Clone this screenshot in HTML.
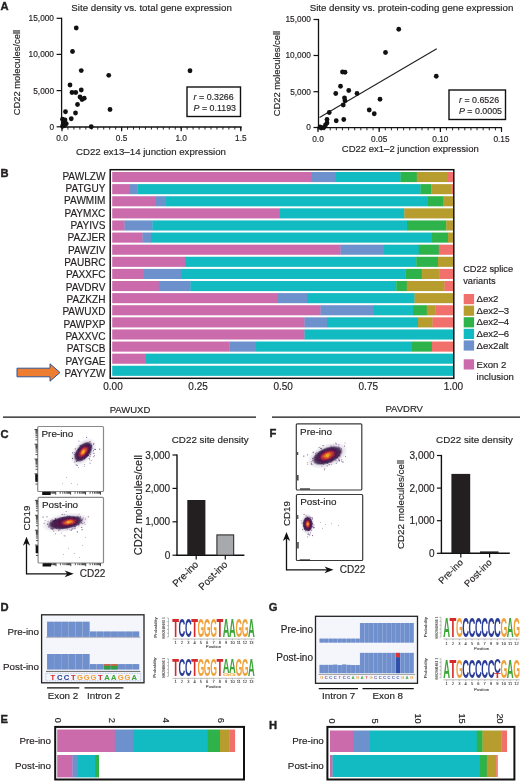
<!DOCTYPE html>
<html><head><meta charset="utf-8"><title>CD22 figure</title>
<style>
html,body{margin:0;padding:0;background:#fff;}
svg{display:block;font-family:"Liberation Sans",Arial,Helvetica,sans-serif;}
</style></head><body>
<svg width="520" height="782" viewBox="0 0 520 782">
<rect width="520" height="782" fill="#fff"/>
<line x1="61.6" y1="17.7" x2="61.6" y2="127.6" stroke="#111" stroke-width="1.3"/>
<line x1="61.0" y1="127" x2="241.6" y2="127" stroke="#111" stroke-width="1.3"/>
<line x1="56.6" y1="18.3" x2="61.6" y2="18.3" stroke="#111" stroke-width="1.2"/>
<text x="54.0" y="21.2" font-size="8.3" text-anchor="end" fill="#231f20" stroke="#231f20" stroke-width="0.16">15,000</text>
<line x1="56.6" y1="54.4" x2="61.6" y2="54.4" stroke="#111" stroke-width="1.2"/>
<text x="54.0" y="57.3" font-size="8.3" text-anchor="end" fill="#231f20" stroke="#231f20" stroke-width="0.16">10,000</text>
<line x1="56.6" y1="90.6" x2="61.6" y2="90.6" stroke="#111" stroke-width="1.2"/>
<text x="54.0" y="93.5" font-size="8.3" text-anchor="end" fill="#231f20" stroke="#231f20" stroke-width="0.16">5,000</text>
<line x1="56.6" y1="126.8" x2="61.6" y2="126.8" stroke="#111" stroke-width="1.2"/>
<text x="54.0" y="129.7" font-size="8.3" text-anchor="end" fill="#231f20" stroke="#231f20" stroke-width="0.16">0</text>
<line x1="62.0" y1="127" x2="62.0" y2="129.6" stroke="#111" stroke-width="0.9"/>
<line x1="67.96" y1="127" x2="67.96" y2="129.6" stroke="#111" stroke-width="0.9"/>
<line x1="73.92" y1="127" x2="73.92" y2="129.6" stroke="#111" stroke-width="0.9"/>
<line x1="79.88" y1="127" x2="79.88" y2="129.6" stroke="#111" stroke-width="0.9"/>
<line x1="85.84" y1="127" x2="85.84" y2="129.6" stroke="#111" stroke-width="0.9"/>
<line x1="91.8" y1="127" x2="91.8" y2="129.6" stroke="#111" stroke-width="0.9"/>
<line x1="97.75999999999999" y1="127" x2="97.75999999999999" y2="129.6" stroke="#111" stroke-width="0.9"/>
<line x1="103.72" y1="127" x2="103.72" y2="129.6" stroke="#111" stroke-width="0.9"/>
<line x1="109.68" y1="127" x2="109.68" y2="129.6" stroke="#111" stroke-width="0.9"/>
<line x1="115.64" y1="127" x2="115.64" y2="129.6" stroke="#111" stroke-width="0.9"/>
<line x1="121.6" y1="127" x2="121.6" y2="129.6" stroke="#111" stroke-width="0.9"/>
<line x1="127.56" y1="127" x2="127.56" y2="129.6" stroke="#111" stroke-width="0.9"/>
<line x1="133.51999999999998" y1="127" x2="133.51999999999998" y2="129.6" stroke="#111" stroke-width="0.9"/>
<line x1="139.48000000000002" y1="127" x2="139.48000000000002" y2="129.6" stroke="#111" stroke-width="0.9"/>
<line x1="145.44" y1="127" x2="145.44" y2="129.6" stroke="#111" stroke-width="0.9"/>
<line x1="151.4" y1="127" x2="151.4" y2="129.6" stroke="#111" stroke-width="0.9"/>
<line x1="157.36" y1="127" x2="157.36" y2="129.6" stroke="#111" stroke-width="0.9"/>
<line x1="163.32" y1="127" x2="163.32" y2="129.6" stroke="#111" stroke-width="0.9"/>
<line x1="169.28" y1="127" x2="169.28" y2="129.6" stroke="#111" stroke-width="0.9"/>
<line x1="175.24" y1="127" x2="175.24" y2="129.6" stroke="#111" stroke-width="0.9"/>
<line x1="181.2" y1="127" x2="181.2" y2="129.6" stroke="#111" stroke-width="0.9"/>
<line x1="187.16" y1="127" x2="187.16" y2="129.6" stroke="#111" stroke-width="0.9"/>
<line x1="193.12" y1="127" x2="193.12" y2="129.6" stroke="#111" stroke-width="0.9"/>
<line x1="199.08" y1="127" x2="199.08" y2="129.6" stroke="#111" stroke-width="0.9"/>
<line x1="205.04" y1="127" x2="205.04" y2="129.6" stroke="#111" stroke-width="0.9"/>
<line x1="211.0" y1="127" x2="211.0" y2="129.6" stroke="#111" stroke-width="0.9"/>
<line x1="216.96" y1="127" x2="216.96" y2="129.6" stroke="#111" stroke-width="0.9"/>
<line x1="222.92" y1="127" x2="222.92" y2="129.6" stroke="#111" stroke-width="0.9"/>
<line x1="228.88" y1="127" x2="228.88" y2="129.6" stroke="#111" stroke-width="0.9"/>
<line x1="234.84" y1="127" x2="234.84" y2="129.6" stroke="#111" stroke-width="0.9"/>
<line x1="240.8" y1="127" x2="240.8" y2="129.6" stroke="#111" stroke-width="0.9"/>
<line x1="62" y1="127" x2="62" y2="131.2" stroke="#111" stroke-width="1.2"/>
<text x="62" y="141.2" font-size="8.3" text-anchor="middle" fill="#231f20" stroke="#231f20" stroke-width="0.16">0.0</text>
<line x1="121.6" y1="127" x2="121.6" y2="131.2" stroke="#111" stroke-width="1.2"/>
<text x="121.6" y="141.2" font-size="8.3" text-anchor="middle" fill="#231f20" stroke="#231f20" stroke-width="0.16">0.5</text>
<line x1="181.2" y1="127" x2="181.2" y2="131.2" stroke="#111" stroke-width="1.2"/>
<text x="181.2" y="141.2" font-size="8.3" text-anchor="middle" fill="#231f20" stroke="#231f20" stroke-width="0.16">1.0</text>
<line x1="240.8" y1="127" x2="240.8" y2="131.2" stroke="#111" stroke-width="1.2"/>
<text x="240.8" y="141.2" font-size="8.3" text-anchor="middle" fill="#231f20" stroke="#231f20" stroke-width="0.16">1.5</text>
<text x="151.6" y="10.9" font-size="9.72" text-anchor="middle" fill="#231f20" stroke="#231f20" stroke-width="0.16">Site density vs. total gene expression</text>
<text x="151" y="155.3" font-size="9.68" text-anchor="middle" fill="#231f20" stroke="#231f20" stroke-width="0.16">CD22 ex13–14 junction expression</text>
<text x="20.4" y="72.65" font-size="9.4" text-anchor="middle" fill="#231f20" stroke="#231f20" stroke-width="0.16" transform="rotate(-90 20.4 72.65)">CD22 molecules/cell</text>
<circle cx="76.25" cy="28" r="2.4" fill="#111"/>
<circle cx="72.5" cy="51.5" r="2.4" fill="#111"/>
<circle cx="81.25" cy="70.6" r="2.4" fill="#111"/>
<circle cx="108.75" cy="75.3" r="2.4" fill="#111"/>
<circle cx="190" cy="70.75" r="2.4" fill="#111"/>
<circle cx="70" cy="85" r="2.4" fill="#111"/>
<circle cx="72" cy="92.5" r="2.4" fill="#111"/>
<circle cx="75.75" cy="92.5" r="2.4" fill="#111"/>
<circle cx="81.25" cy="90" r="2.4" fill="#111"/>
<circle cx="80" cy="97" r="2.4" fill="#111"/>
<circle cx="82" cy="99.5" r="2.4" fill="#111"/>
<circle cx="84.25" cy="98.25" r="2.4" fill="#111"/>
<circle cx="77.5" cy="104.5" r="2.4" fill="#111"/>
<circle cx="110" cy="109.5" r="2.4" fill="#111"/>
<circle cx="65.5" cy="111.75" r="2.4" fill="#111"/>
<circle cx="75.5" cy="113" r="2.4" fill="#111"/>
<circle cx="71.25" cy="118.75" r="2.4" fill="#111"/>
<circle cx="62.5" cy="119.25" r="2.4" fill="#111"/>
<circle cx="65" cy="120" r="2.4" fill="#111"/>
<circle cx="63.75" cy="122.5" r="2.4" fill="#111"/>
<circle cx="66.25" cy="123.75" r="2.4" fill="#111"/>
<circle cx="64.5" cy="125.5" r="2.4" fill="#111"/>
<circle cx="62.5" cy="126.25" r="2.4" fill="#111"/>
<circle cx="91.25" cy="126.75" r="2.4" fill="#111"/>
<rect x="187.00" y="87.00" width="53.50" height="29.50" fill="#fff" stroke="#111" stroke-width="1.4"/>
<text x="193.6" y="99.6" font-size="8.85" fill="#231f20" stroke="#231f20" stroke-width="0.15"><tspan font-style="italic">r</tspan> = 0.3266</text>
<text x="193.6" y="110.7" font-size="8.85" fill="#231f20" stroke="#231f20" stroke-width="0.15"><tspan font-style="italic">P</tspan> = 0.1193</text>
<line x1="318.5" y1="18.9" x2="318.5" y2="128.3" stroke="#111" stroke-width="1.3"/>
<line x1="317.9" y1="127.7" x2="502.1" y2="127.7" stroke="#111" stroke-width="1.3"/>
<line x1="313.5" y1="19.5" x2="318.5" y2="19.5" stroke="#111" stroke-width="1.2"/>
<text x="310.9" y="22.4" font-size="8.3" text-anchor="end" fill="#231f20" stroke="#231f20" stroke-width="0.16">15,000</text>
<line x1="313.5" y1="55.5" x2="318.5" y2="55.5" stroke="#111" stroke-width="1.2"/>
<text x="310.9" y="58.4" font-size="8.3" text-anchor="end" fill="#231f20" stroke="#231f20" stroke-width="0.16">10,000</text>
<line x1="313.5" y1="91.7" x2="318.5" y2="91.7" stroke="#111" stroke-width="1.2"/>
<text x="310.9" y="94.60000000000001" font-size="8.3" text-anchor="end" fill="#231f20" stroke="#231f20" stroke-width="0.16">5,000</text>
<line x1="313.5" y1="127.5" x2="318.5" y2="127.5" stroke="#111" stroke-width="1.2"/>
<text x="310.9" y="130.4" font-size="8.3" text-anchor="end" fill="#231f20" stroke="#231f20" stroke-width="0.16">0</text>
<line x1="318.0" y1="127.7" x2="318.0" y2="130.3" stroke="#111" stroke-width="0.9"/>
<line x1="324.117" y1="127.7" x2="324.117" y2="130.3" stroke="#111" stroke-width="0.9"/>
<line x1="330.234" y1="127.7" x2="330.234" y2="130.3" stroke="#111" stroke-width="0.9"/>
<line x1="336.351" y1="127.7" x2="336.351" y2="130.3" stroke="#111" stroke-width="0.9"/>
<line x1="342.468" y1="127.7" x2="342.468" y2="130.3" stroke="#111" stroke-width="0.9"/>
<line x1="348.585" y1="127.7" x2="348.585" y2="130.3" stroke="#111" stroke-width="0.9"/>
<line x1="354.702" y1="127.7" x2="354.702" y2="130.3" stroke="#111" stroke-width="0.9"/>
<line x1="360.819" y1="127.7" x2="360.819" y2="130.3" stroke="#111" stroke-width="0.9"/>
<line x1="366.936" y1="127.7" x2="366.936" y2="130.3" stroke="#111" stroke-width="0.9"/>
<line x1="373.053" y1="127.7" x2="373.053" y2="130.3" stroke="#111" stroke-width="0.9"/>
<line x1="379.17" y1="127.7" x2="379.17" y2="130.3" stroke="#111" stroke-width="0.9"/>
<line x1="385.28700000000003" y1="127.7" x2="385.28700000000003" y2="130.3" stroke="#111" stroke-width="0.9"/>
<line x1="391.404" y1="127.7" x2="391.404" y2="130.3" stroke="#111" stroke-width="0.9"/>
<line x1="397.521" y1="127.7" x2="397.521" y2="130.3" stroke="#111" stroke-width="0.9"/>
<line x1="403.63800000000003" y1="127.7" x2="403.63800000000003" y2="130.3" stroke="#111" stroke-width="0.9"/>
<line x1="409.755" y1="127.7" x2="409.755" y2="130.3" stroke="#111" stroke-width="0.9"/>
<line x1="415.872" y1="127.7" x2="415.872" y2="130.3" stroke="#111" stroke-width="0.9"/>
<line x1="421.98900000000003" y1="127.7" x2="421.98900000000003" y2="130.3" stroke="#111" stroke-width="0.9"/>
<line x1="428.106" y1="127.7" x2="428.106" y2="130.3" stroke="#111" stroke-width="0.9"/>
<line x1="434.223" y1="127.7" x2="434.223" y2="130.3" stroke="#111" stroke-width="0.9"/>
<line x1="440.34000000000003" y1="127.7" x2="440.34000000000003" y2="130.3" stroke="#111" stroke-width="0.9"/>
<line x1="446.457" y1="127.7" x2="446.457" y2="130.3" stroke="#111" stroke-width="0.9"/>
<line x1="452.574" y1="127.7" x2="452.574" y2="130.3" stroke="#111" stroke-width="0.9"/>
<line x1="458.69100000000003" y1="127.7" x2="458.69100000000003" y2="130.3" stroke="#111" stroke-width="0.9"/>
<line x1="464.808" y1="127.7" x2="464.808" y2="130.3" stroke="#111" stroke-width="0.9"/>
<line x1="470.925" y1="127.7" x2="470.925" y2="130.3" stroke="#111" stroke-width="0.9"/>
<line x1="477.04200000000003" y1="127.7" x2="477.04200000000003" y2="130.3" stroke="#111" stroke-width="0.9"/>
<line x1="483.159" y1="127.7" x2="483.159" y2="130.3" stroke="#111" stroke-width="0.9"/>
<line x1="489.276" y1="127.7" x2="489.276" y2="130.3" stroke="#111" stroke-width="0.9"/>
<line x1="495.39300000000003" y1="127.7" x2="495.39300000000003" y2="130.3" stroke="#111" stroke-width="0.9"/>
<line x1="501.51" y1="127.7" x2="501.51" y2="130.3" stroke="#111" stroke-width="0.9"/>
<line x1="318" y1="127.7" x2="318" y2="131.9" stroke="#111" stroke-width="1.2"/>
<text x="318" y="141.9" font-size="8.3" text-anchor="middle" fill="#231f20" stroke="#231f20" stroke-width="0.16">0.0</text>
<line x1="379.2" y1="127.7" x2="379.2" y2="131.9" stroke="#111" stroke-width="1.2"/>
<text x="379.2" y="141.9" font-size="8.3" text-anchor="middle" fill="#231f20" stroke="#231f20" stroke-width="0.16">0.05</text>
<line x1="440.4" y1="127.7" x2="440.4" y2="131.9" stroke="#111" stroke-width="1.2"/>
<text x="440.4" y="141.9" font-size="8.3" text-anchor="middle" fill="#231f20" stroke="#231f20" stroke-width="0.16">0.10</text>
<line x1="501.5" y1="127.7" x2="501.5" y2="131.9" stroke="#111" stroke-width="1.2"/>
<text x="501.5" y="141.9" font-size="8.3" text-anchor="middle" fill="#231f20" stroke="#231f20" stroke-width="0.16">0.15</text>
<text x="411.5" y="10.9" font-size="9.72" text-anchor="middle" fill="#231f20" stroke="#231f20" stroke-width="0.16">Site density vs. protein-coding gene expression</text>
<text x="410.3" y="152.3" font-size="9.52" text-anchor="middle" fill="#231f20" stroke="#231f20" stroke-width="0.16">CD22 ex1–2 junction expression</text>
<text x="280.0" y="73.6" font-size="9.4" text-anchor="middle" fill="#231f20" stroke="#231f20" stroke-width="0.16" transform="rotate(-90 280.0 73.6)">CD22 molecules/cell</text>
<line x1="319.5" y1="117.5" x2="436.75" y2="48.75" stroke="#231f20" stroke-width="1.1"/>
<circle cx="385.5" cy="52.5" r="2.4" fill="#111"/>
<circle cx="342.5" cy="72" r="2.4" fill="#111"/>
<circle cx="345" cy="72.25" r="2.4" fill="#111"/>
<circle cx="340.5" cy="86.25" r="2.4" fill="#111"/>
<circle cx="348.75" cy="90.5" r="2.4" fill="#111"/>
<circle cx="335.75" cy="93.5" r="2.4" fill="#111"/>
<circle cx="357" cy="93.5" r="2.4" fill="#111"/>
<circle cx="344.5" cy="98" r="2.4" fill="#111"/>
<circle cx="345" cy="100.75" r="2.4" fill="#111"/>
<circle cx="380" cy="99.25" r="2.4" fill="#111"/>
<circle cx="343.25" cy="105" r="2.4" fill="#111"/>
<circle cx="369.25" cy="110" r="2.4" fill="#111"/>
<circle cx="374.25" cy="113.75" r="2.4" fill="#111"/>
<circle cx="329.25" cy="112.5" r="2.4" fill="#111"/>
<circle cx="327" cy="119.5" r="2.4" fill="#111"/>
<circle cx="336.25" cy="120.75" r="2.4" fill="#111"/>
<circle cx="343.75" cy="119.5" r="2.4" fill="#111"/>
<circle cx="327" cy="123" r="2.4" fill="#111"/>
<circle cx="325.5" cy="125" r="2.4" fill="#111"/>
<circle cx="320" cy="127" r="2.4" fill="#111"/>
<circle cx="323.75" cy="127.5" r="2.4" fill="#111"/>
<circle cx="321.25" cy="128" r="2.4" fill="#111"/>
<circle cx="398.75" cy="29.25" r="2.4" fill="#111"/>
<circle cx="436.25" cy="76.25" r="2.4" fill="#111"/>
<rect x="449.00" y="90.00" width="56.50" height="29.50" fill="#fff" stroke="#111" stroke-width="1.4"/>
<text x="459" y="102.6" font-size="8.85" fill="#231f20" stroke="#231f20" stroke-width="0.15"><tspan font-style="italic">r</tspan> = 0.6526</text>
<text x="459" y="113.7" font-size="8.85" fill="#231f20" stroke="#231f20" stroke-width="0.15"><tspan font-style="italic">P</tspan> = 0.0005</text>
<text x="0.5" y="10.2" font-size="11.2" text-anchor="start" fill="#231f20" stroke="#231f20" stroke-width="0.4" font-weight="bold">A</text>
<text x="0.5" y="176.8" font-size="11.2" text-anchor="start" fill="#231f20" stroke="#231f20" stroke-width="0.4" font-weight="bold">B</text>
<rect x="112.20" y="172.00" width="199.10" height="10.10" fill="#cc6bac"/>
<rect x="311.00" y="172.00" width="25.05" height="10.10" fill="#6c91cd"/>
<rect x="335.75" y="172.00" width="65.05" height="10.10" fill="#12bac2"/>
<rect x="400.50" y="172.00" width="16.55" height="10.10" fill="#2eb24a"/>
<rect x="416.75" y="172.00" width="31.55" height="10.10" fill="#b79d2e"/>
<rect x="448.00" y="172.00" width="5.00" height="10.10" fill="#f1706c"/>
<text x="105.4" y="179.8" font-size="10.05" text-anchor="end" fill="#231f20" stroke="#231f20" stroke-width="0.16">PAWLZW</text>
<rect x="112.20" y="184.11" width="18.10" height="10.10" fill="#cc6bac"/>
<rect x="130.00" y="184.11" width="7.80" height="10.10" fill="#6c91cd"/>
<rect x="137.50" y="184.11" width="283.30" height="10.10" fill="#12bac2"/>
<rect x="420.50" y="184.11" width="11.05" height="10.10" fill="#2eb24a"/>
<rect x="431.25" y="184.11" width="20.45" height="10.10" fill="#b79d2e"/>
<rect x="451.40" y="184.11" width="1.60" height="10.10" fill="#f1706c"/>
<text x="105.4" y="192.13" font-size="10.05" text-anchor="end" fill="#231f20" stroke="#231f20" stroke-width="0.16">PATGUY</text>
<rect x="112.20" y="196.22" width="44.10" height="10.10" fill="#cc6bac"/>
<rect x="156.00" y="196.22" width="10.30" height="10.10" fill="#6c91cd"/>
<rect x="166.00" y="196.22" width="262.30" height="10.10" fill="#12bac2"/>
<rect x="428.00" y="196.22" width="15.30" height="10.10" fill="#2eb24a"/>
<rect x="443.00" y="196.22" width="10.00" height="10.10" fill="#b79d2e"/>
<text x="105.4" y="204.46" font-size="10.05" text-anchor="end" fill="#231f20" stroke="#231f20" stroke-width="0.16">PAWMIM</text>
<rect x="112.20" y="208.33" width="168.10" height="10.10" fill="#cc6bac"/>
<rect x="280.00" y="208.33" width="124.55" height="10.10" fill="#12bac2"/>
<rect x="404.25" y="208.33" width="48.75" height="10.10" fill="#b79d2e"/>
<text x="105.4" y="216.79" font-size="10.05" text-anchor="end" fill="#231f20" stroke="#231f20" stroke-width="0.16">PAYMXC</text>
<rect x="112.20" y="220.44" width="12.60" height="10.10" fill="#cc6bac"/>
<rect x="124.50" y="220.44" width="28.30" height="10.10" fill="#6c91cd"/>
<rect x="152.50" y="220.44" width="254.80" height="10.10" fill="#12bac2"/>
<rect x="407.00" y="220.44" width="39.55" height="10.10" fill="#2eb24a"/>
<rect x="446.25" y="220.44" width="6.75" height="10.10" fill="#b79d2e"/>
<text x="105.4" y="229.12" font-size="10.05" text-anchor="end" fill="#231f20" stroke="#231f20" stroke-width="0.16">PAYIVS</text>
<rect x="112.20" y="232.55" width="30.60" height="10.10" fill="#cc6bac"/>
<rect x="142.50" y="232.55" width="8.80" height="10.10" fill="#6c91cd"/>
<rect x="151.00" y="232.55" width="281.30" height="10.10" fill="#12bac2"/>
<rect x="432.00" y="232.55" width="16.30" height="10.10" fill="#2eb24a"/>
<rect x="448.00" y="232.55" width="5.00" height="10.10" fill="#b79d2e"/>
<text x="105.4" y="241.45" font-size="10.05" text-anchor="end" fill="#231f20" stroke="#231f20" stroke-width="0.16">PAZJER</text>
<rect x="112.20" y="244.66" width="228.60" height="10.10" fill="#cc6bac"/>
<rect x="340.50" y="244.66" width="43.80" height="10.10" fill="#6c91cd"/>
<rect x="384.00" y="244.66" width="35.05" height="10.10" fill="#12bac2"/>
<rect x="418.75" y="244.66" width="20.30" height="10.10" fill="#2eb24a"/>
<rect x="438.75" y="244.66" width="14.25" height="10.10" fill="#f1706c"/>
<text x="105.4" y="253.78" font-size="10.05" text-anchor="end" fill="#231f20" stroke="#231f20" stroke-width="0.16">PAWZIV</text>
<rect x="112.20" y="256.77" width="73.10" height="10.10" fill="#cc6bac"/>
<rect x="185.00" y="256.77" width="231.55" height="10.10" fill="#12bac2"/>
<rect x="416.25" y="256.77" width="22.05" height="10.10" fill="#2eb24a"/>
<rect x="438.00" y="256.77" width="15.00" height="10.10" fill="#b79d2e"/>
<text x="105.4" y="266.11" font-size="10.05" text-anchor="end" fill="#231f20" stroke="#231f20" stroke-width="0.16">PAUBRC</text>
<rect x="112.20" y="268.88" width="32.10" height="10.10" fill="#cc6bac"/>
<rect x="144.00" y="268.88" width="37.30" height="10.10" fill="#6c91cd"/>
<rect x="181.00" y="268.88" width="224.80" height="10.10" fill="#12bac2"/>
<rect x="405.50" y="268.88" width="16.55" height="10.10" fill="#2eb24a"/>
<rect x="421.75" y="268.88" width="18.05" height="10.10" fill="#b79d2e"/>
<rect x="439.50" y="268.88" width="13.50" height="10.10" fill="#f1706c"/>
<text x="105.4" y="278.44" font-size="10.05" text-anchor="end" fill="#231f20" stroke="#231f20" stroke-width="0.16">PAXXFC</text>
<rect x="112.20" y="280.99" width="46.85" height="10.10" fill="#cc6bac"/>
<rect x="158.75" y="280.99" width="32.05" height="10.10" fill="#6c91cd"/>
<rect x="190.50" y="280.99" width="206.05" height="10.10" fill="#12bac2"/>
<rect x="396.25" y="280.99" width="10.80" height="10.10" fill="#2eb24a"/>
<rect x="406.75" y="280.99" width="38.05" height="10.10" fill="#b79d2e"/>
<rect x="444.50" y="280.99" width="8.50" height="10.10" fill="#f1706c"/>
<text x="105.4" y="290.77" font-size="10.05" text-anchor="end" fill="#231f20" stroke="#231f20" stroke-width="0.16">PAVDRV</text>
<rect x="112.20" y="293.10" width="166.10" height="10.10" fill="#cc6bac"/>
<rect x="278.00" y="293.10" width="29.30" height="10.10" fill="#6c91cd"/>
<rect x="307.00" y="293.10" width="107.80" height="10.10" fill="#12bac2"/>
<rect x="414.50" y="293.10" width="38.50" height="10.10" fill="#b79d2e"/>
<text x="105.4" y="303.1" font-size="10.05" text-anchor="end" fill="#231f20" stroke="#231f20" stroke-width="0.16">PAZKZH</text>
<rect x="112.20" y="305.21" width="208.60" height="10.10" fill="#cc6bac"/>
<rect x="320.50" y="305.21" width="53.55" height="10.10" fill="#6c91cd"/>
<rect x="373.75" y="305.21" width="39.55" height="10.10" fill="#12bac2"/>
<rect x="413.00" y="305.21" width="14.05" height="10.10" fill="#2eb24a"/>
<rect x="426.75" y="305.21" width="9.05" height="10.10" fill="#b79d2e"/>
<rect x="435.50" y="305.21" width="17.50" height="10.10" fill="#f1706c"/>
<text x="105.4" y="315.43" font-size="10.05" text-anchor="end" fill="#231f20" stroke="#231f20" stroke-width="0.16">PAWUXD</text>
<rect x="112.20" y="317.32" width="192.60" height="10.10" fill="#cc6bac"/>
<rect x="304.50" y="317.32" width="22.80" height="10.10" fill="#6c91cd"/>
<rect x="327.00" y="317.32" width="91.30" height="10.10" fill="#12bac2"/>
<rect x="418.00" y="317.32" width="14.80" height="10.10" fill="#b79d2e"/>
<rect x="432.50" y="317.32" width="20.50" height="10.10" fill="#f1706c"/>
<text x="105.4" y="327.76" font-size="10.05" text-anchor="end" fill="#231f20" stroke="#231f20" stroke-width="0.16">PAWPXP</text>
<rect x="112.20" y="329.43" width="192.60" height="10.10" fill="#cc6bac"/>
<rect x="304.50" y="329.43" width="148.50" height="10.10" fill="#12bac2"/>
<text x="105.4" y="340.09" font-size="10.05" text-anchor="end" fill="#231f20" stroke="#231f20" stroke-width="0.16">PAXXVC</text>
<rect x="112.20" y="341.54" width="117.60" height="10.10" fill="#cc6bac"/>
<rect x="229.50" y="341.54" width="26.80" height="10.10" fill="#6c91cd"/>
<rect x="256.00" y="341.54" width="156.30" height="10.10" fill="#12bac2"/>
<rect x="412.00" y="341.54" width="20.30" height="10.10" fill="#2eb24a"/>
<rect x="432.00" y="341.54" width="21.00" height="10.10" fill="#f1706c"/>
<text x="105.4" y="352.42" font-size="10.05" text-anchor="end" fill="#231f20" stroke="#231f20" stroke-width="0.16">PATSCB</text>
<rect x="112.20" y="353.65" width="34.10" height="10.10" fill="#cc6bac"/>
<rect x="146.00" y="353.65" width="307.00" height="10.10" fill="#12bac2"/>
<text x="105.4" y="364.75" font-size="10.05" text-anchor="end" fill="#231f20" stroke="#231f20" stroke-width="0.16">PAYGAE</text>
<rect x="112.20" y="365.76" width="340.80" height="10.10" fill="#12bac2"/>
<text x="105.4" y="377.08" font-size="10.05" text-anchor="end" fill="#231f20" stroke="#231f20" stroke-width="0.16">PAYYZW</text>
<rect x="110.20" y="169.70" width="343.60" height="208.60" fill="none" stroke="#111" stroke-width="1.5"/>
<text x="113.0" y="390.2" font-size="10" text-anchor="middle" fill="#231f20" stroke="#231f20" stroke-width="0.16">0.00</text>
<text x="198.1" y="390.2" font-size="10" text-anchor="middle" fill="#231f20" stroke="#231f20" stroke-width="0.16">0.25</text>
<text x="283.2" y="390.2" font-size="10" text-anchor="middle" fill="#231f20" stroke="#231f20" stroke-width="0.16">0.50</text>
<text x="368.29999999999995" y="390.2" font-size="10" text-anchor="middle" fill="#231f20" stroke="#231f20" stroke-width="0.16">0.75</text>
<text x="453.4" y="390.2" font-size="10" text-anchor="middle" fill="#231f20" stroke="#231f20" stroke-width="0.16">1.00</text>
<polygon points="17,368.2 50,368.2 50,363.8 60,372.5 50,381.2 50,376.8 17,376.8" fill="#ed7d31" stroke="#2f5597" stroke-width="1"/>
<text x="463.2" y="272.2" font-size="9.25" text-anchor="start" fill="#231f20" stroke="#231f20" stroke-width="0.16">CD22 splice</text>
<text x="463.2" y="284.3" font-size="9.25" text-anchor="start" fill="#231f20" stroke="#231f20" stroke-width="0.16">variants</text>
<rect x="463.70" y="294.00" width="10.40" height="10.20" fill="#f1706c"/>
<text x="476.5" y="302.1" font-size="9.6" text-anchor="start" fill="#231f20" stroke="#231f20" stroke-width="0.16">Δex2</text>
<rect x="463.70" y="305.60" width="10.40" height="10.20" fill="#b79d2e"/>
<text x="476.5" y="313.70000000000005" font-size="9.6" text-anchor="start" fill="#231f20" stroke="#231f20" stroke-width="0.16">Δex2–3</text>
<rect x="463.70" y="317.20" width="10.40" height="10.20" fill="#2eb24a"/>
<text x="476.5" y="325.3" font-size="9.6" text-anchor="start" fill="#231f20" stroke="#231f20" stroke-width="0.16">Δex2–4</text>
<rect x="463.70" y="328.80" width="10.40" height="10.20" fill="#12bac2"/>
<text x="476.5" y="336.90000000000003" font-size="9.6" text-anchor="start" fill="#231f20" stroke="#231f20" stroke-width="0.16">Δex2–6</text>
<rect x="463.70" y="340.40" width="10.40" height="10.20" fill="#6c91cd"/>
<text x="476.5" y="348.5" font-size="9.6" text-anchor="start" fill="#231f20" stroke="#231f20" stroke-width="0.16">Δex2alt</text>
<rect x="463.70" y="359.30" width="10.40" height="10.20" fill="#cc6bac"/>
<text x="476.5" y="367.7" font-size="9.6" text-anchor="start" fill="#231f20" stroke="#231f20" stroke-width="0.16">Exon 2</text>
<text x="476.5" y="380.2" font-size="9.6" text-anchor="start" fill="#231f20" stroke="#231f20" stroke-width="0.16">inclusion</text>
<text x="130" y="413.2" font-size="9.5" text-anchor="middle" fill="#231f20" stroke="#231f20" stroke-width="0.16">PAWUXD</text>
<text x="404.2" y="412" font-size="9.5" text-anchor="middle" fill="#231f20" stroke="#231f20" stroke-width="0.16">PAVDRV</text>
<line x1="3" y1="417.1" x2="256" y2="417.1" stroke="#111" stroke-width="1.4"/>
<line x1="272" y1="417.1" x2="520" y2="417.1" stroke="#111" stroke-width="1.4"/>
<text x="0.5" y="437.7" font-size="11.2" text-anchor="start" fill="#231f20" stroke="#231f20" stroke-width="0.4" font-weight="bold">C</text>
<text x="269.5" y="437.4" font-size="11.2" text-anchor="start" fill="#231f20" stroke="#231f20" stroke-width="0.4" font-weight="bold">F</text>
<defs>
<radialGradient id="blob"><stop offset="0" stop-color="#fdd835"/><stop offset="0.2" stop-color="#f9a21f"/><stop offset="0.45" stop-color="#e0502a"/><stop offset="0.72" stop-color="#a42348" stop-opacity="0.85"/><stop offset="1" stop-color="#6a1648" stop-opacity="0"/></radialGradient>
<radialGradient id="body"><stop offset="0" stop-color="#641545"/><stop offset="0.55" stop-color="#4a1248" stop-opacity="0.97"/><stop offset="0.8" stop-color="#2d1040" stop-opacity="0.8"/><stop offset="1" stop-color="#2d1040" stop-opacity="0"/></radialGradient>
<radialGradient id="halo"><stop offset="0" stop-color="#3a1a55" stop-opacity="0.5"/><stop offset="0.7" stop-color="#3a1a55" stop-opacity="0.16"/><stop offset="1" stop-color="#3a1a55" stop-opacity="0"/></radialGradient>
</defs>
<rect x="37.70" y="426.50" width="65.80" height="65.00" fill="#fff" stroke="#8a8a8a" stroke-width="1.2" rx="1"/>
<ellipse cx="83.3" cy="451.8" rx="16.2" ry="9.8" fill="url(#halo)" transform="rotate(-50 83.3 451.8)"/>
<rect x="83.9" y="454.5" width="1" height="1" fill="#30123b" opacity="0.37"/>
<rect x="82.8" y="449.7" width="1" height="1" fill="#40308a" opacity="0.38"/>
<rect x="82.1" y="453.1" width="1" height="1" fill="#6a2060" opacity="0.56"/>
<rect x="87.8" y="455.0" width="1" height="1" fill="#3b1550" opacity="0.76"/>
<rect x="87.1" y="450.7" width="1" height="1" fill="#30123b" opacity="0.64"/>
<rect x="90.1" y="447.1" width="1" height="1" fill="#3b1550" opacity="0.84"/>
<rect x="93.1" y="444.0" width="1" height="1" fill="#2c1a6b" opacity="0.56"/>
<rect x="76.9" y="457.1" width="1" height="1" fill="#40308a" opacity="0.76"/>
<rect x="89.6" y="452.4" width="1" height="1" fill="#30123b" opacity="0.44"/>
<rect x="91.7" y="447.9" width="1" height="1" fill="#40308a" opacity="0.38"/>
<rect x="89.9" y="453.8" width="1" height="1" fill="#6a2060" opacity="0.74"/>
<rect x="75.7" y="464.2" width="1" height="1" fill="#2c1a6b" opacity="0.50"/>
<rect x="80.1" y="445.5" width="1" height="1" fill="#4b1a5a" opacity="0.39"/>
<rect x="85.5" y="456.7" width="1" height="1" fill="#2c1a6b" opacity="0.71"/>
<rect x="89.6" y="462.7" width="1" height="1" fill="#3b1550" opacity="0.61"/>
<rect x="87.9" y="451.7" width="1" height="1" fill="#6a2060" opacity="0.56"/>
<rect x="84.6" y="449.6" width="1" height="1" fill="#40308a" opacity="0.64"/>
<rect x="83.8" y="447.0" width="1" height="1" fill="#30123b" opacity="0.53"/>
<rect x="76.0" y="460.8" width="1" height="1" fill="#3b1550" opacity="0.77"/>
<rect x="86.5" y="445.4" width="1" height="1" fill="#30123b" opacity="0.38"/>
<rect x="80.0" y="449.9" width="1" height="1" fill="#40308a" opacity="0.85"/>
<rect x="82.3" y="448.0" width="1" height="1" fill="#6a2060" opacity="0.79"/>
<rect x="84.1" y="464.0" width="1" height="1" fill="#2c1a6b" opacity="0.43"/>
<rect x="85.2" y="451.2" width="1" height="1" fill="#2c1a6b" opacity="0.41"/>
<rect x="86.7" y="454.5" width="1" height="1" fill="#6a2060" opacity="0.39"/>
<rect x="79.6" y="458.9" width="1" height="1" fill="#4b1a5a" opacity="0.76"/>
<rect x="83.5" y="447.5" width="1" height="1" fill="#6a2060" opacity="0.84"/>
<rect x="78.7" y="451.3" width="1" height="1" fill="#4b1a5a" opacity="0.43"/>
<rect x="86.8" y="452.0" width="1" height="1" fill="#4b1a5a" opacity="0.36"/>
<rect x="82.8" y="448.7" width="1" height="1" fill="#2c1a6b" opacity="0.35"/>
<rect x="81.4" y="457.3" width="1" height="1" fill="#40308a" opacity="0.51"/>
<rect x="93.8" y="448.8" width="1" height="1" fill="#40308a" opacity="0.68"/>
<rect x="79.3" y="449.1" width="1" height="1" fill="#30123b" opacity="0.75"/>
<rect x="82.1" y="457.5" width="1" height="1" fill="#3b1550" opacity="0.59"/>
<rect x="82.4" y="455.5" width="1" height="1" fill="#4b1a5a" opacity="0.57"/>
<rect x="90.5" y="449.0" width="1" height="1" fill="#3b1550" opacity="0.35"/>
<rect x="85.7" y="451.5" width="1" height="1" fill="#2c1a6b" opacity="0.66"/>
<rect x="86.8" y="449.5" width="1" height="1" fill="#6a2060" opacity="0.42"/>
<rect x="86.3" y="454.4" width="1" height="1" fill="#2c1a6b" opacity="0.59"/>
<rect x="89.5" y="449.6" width="1" height="1" fill="#6a2060" opacity="0.59"/>
<rect x="84.1" y="454.3" width="1" height="1" fill="#30123b" opacity="0.52"/>
<rect x="88.8" y="457.9" width="1" height="1" fill="#4b1a5a" opacity="0.61"/>
<rect x="94.0" y="455.0" width="1" height="1" fill="#2c1a6b" opacity="0.42"/>
<rect x="82.1" y="452.7" width="1" height="1" fill="#40308a" opacity="0.50"/>
<rect x="81.0" y="452.2" width="1" height="1" fill="#2c1a6b" opacity="0.61"/>
<rect x="84.9" y="446.5" width="1" height="1" fill="#4b1a5a" opacity="0.62"/>
<rect x="81.1" y="448.5" width="1" height="1" fill="#4b1a5a" opacity="0.66"/>
<rect x="79.5" y="445.2" width="1" height="1" fill="#4b1a5a" opacity="0.75"/>
<rect x="81.2" y="444.2" width="1" height="1" fill="#4b1a5a" opacity="0.45"/>
<rect x="76.8" y="460.1" width="1" height="1" fill="#3b1550" opacity="0.75"/>
<rect x="81.0" y="455.3" width="1" height="1" fill="#40308a" opacity="0.83"/>
<rect x="76.6" y="465.0" width="1" height="1" fill="#2c1a6b" opacity="0.83"/>
<rect x="83.1" y="455.6" width="1" height="1" fill="#4b1a5a" opacity="0.59"/>
<rect x="84.0" y="457.5" width="1" height="1" fill="#40308a" opacity="0.77"/>
<rect x="77.9" y="459.5" width="1" height="1" fill="#30123b" opacity="0.39"/>
<rect x="72.2" y="452.4" width="1" height="1" fill="#30123b" opacity="0.73"/>
<rect x="81.0" y="455.1" width="1" height="1" fill="#30123b" opacity="0.52"/>
<rect x="78.4" y="440.6" width="1" height="1" fill="#6a2060" opacity="0.58"/>
<rect x="81.8" y="450.7" width="1" height="1" fill="#4b1a5a" opacity="0.44"/>
<rect x="86.3" y="451.0" width="1" height="1" fill="#6a2060" opacity="0.75"/>
<rect x="93.0" y="450.3" width="1" height="1" fill="#6a2060" opacity="0.68"/>
<rect x="83.6" y="458.3" width="1" height="1" fill="#4b1a5a" opacity="0.36"/>
<rect x="80.3" y="445.1" width="1" height="1" fill="#3b1550" opacity="0.61"/>
<rect x="85.9" y="445.7" width="1" height="1" fill="#4b1a5a" opacity="0.76"/>
<rect x="86.5" y="452.9" width="1" height="1" fill="#2c1a6b" opacity="0.60"/>
<rect x="80.7" y="449.0" width="1" height="1" fill="#40308a" opacity="0.56"/>
<rect x="94.9" y="448.9" width="1" height="1" fill="#2c1a6b" opacity="0.80"/>
<rect x="74.1" y="452.2" width="1" height="1" fill="#40308a" opacity="0.56"/>
<rect x="85.6" y="445.1" width="1" height="1" fill="#40308a" opacity="0.43"/>
<rect x="74.4" y="461.5" width="1" height="1" fill="#4b1a5a" opacity="0.65"/>
<rect x="81.8" y="449.8" width="1" height="1" fill="#4b1a5a" opacity="0.59"/>
<rect x="78.3" y="449.3" width="1" height="1" fill="#2c1a6b" opacity="0.69"/>
<rect x="77.9" y="456.8" width="1" height="1" fill="#3b1550" opacity="0.79"/>
<rect x="86.6" y="449.4" width="1" height="1" fill="#3b1550" opacity="0.74"/>
<rect x="77.7" y="458.0" width="1" height="1" fill="#3b1550" opacity="0.57"/>
<rect x="77.0" y="454.1" width="1" height="1" fill="#40308a" opacity="0.45"/>
<rect x="86.4" y="456.1" width="1" height="1" fill="#6a2060" opacity="0.60"/>
<rect x="87.4" y="455.1" width="1" height="1" fill="#2c1a6b" opacity="0.81"/>
<rect x="84.1" y="448.0" width="1" height="1" fill="#6a2060" opacity="0.42"/>
<rect x="89.0" y="450.0" width="1" height="1" fill="#3b1550" opacity="0.69"/>
<rect x="81.7" y="455.7" width="1" height="1" fill="#2c1a6b" opacity="0.74"/>
<rect x="84.1" y="448.5" width="1" height="1" fill="#30123b" opacity="0.67"/>
<rect x="83.1" y="455.9" width="1" height="1" fill="#4b1a5a" opacity="0.83"/>
<rect x="93.3" y="456.2" width="1" height="1" fill="#6a2060" opacity="0.79"/>
<rect x="90.7" y="451.5" width="1" height="1" fill="#4b1a5a" opacity="0.43"/>
<rect x="80.4" y="458.6" width="1" height="1" fill="#2c1a6b" opacity="0.56"/>
<rect x="83.3" y="454.1" width="1" height="1" fill="#2c1a6b" opacity="0.36"/>
<rect x="77.9" y="455.9" width="1" height="1" fill="#3b1550" opacity="0.54"/>
<rect x="79.5" y="455.7" width="1" height="1" fill="#3b1550" opacity="0.41"/>
<rect x="84.8" y="447.7" width="1" height="1" fill="#3b1550" opacity="0.39"/>
<rect x="89.2" y="459.3" width="1" height="1" fill="#4b1a5a" opacity="0.49"/>
<rect x="88.8" y="450.3" width="1" height="1" fill="#30123b" opacity="0.76"/>
<rect x="85.1" y="453.5" width="1" height="1" fill="#40308a" opacity="0.64"/>
<rect x="81.4" y="451.3" width="1" height="1" fill="#3b1550" opacity="0.75"/>
<rect x="93.4" y="452.9" width="1" height="1" fill="#2c1a6b" opacity="0.82"/>
<rect x="73.8" y="454.0" width="1" height="1" fill="#3b1550" opacity="0.65"/>
<rect x="86.4" y="453.3" width="1" height="1" fill="#3b1550" opacity="0.58"/>
<rect x="84.1" y="458.2" width="1" height="1" fill="#2c1a6b" opacity="0.66"/>
<rect x="91.0" y="445.4" width="1" height="1" fill="#3b1550" opacity="0.83"/>
<rect x="85.2" y="453.8" width="1" height="1" fill="#2c1a6b" opacity="0.66"/>
<rect x="80.1" y="454.7" width="1" height="1" fill="#6a2060" opacity="0.60"/>
<rect x="87.7" y="452.1" width="1" height="1" fill="#3b1550" opacity="0.85"/>
<rect x="84.2" y="451.0" width="1" height="1" fill="#40308a" opacity="0.63"/>
<rect x="88.6" y="452.6" width="1" height="1" fill="#6a2060" opacity="0.40"/>
<rect x="82.0" y="446.9" width="1" height="1" fill="#6a2060" opacity="0.62"/>
<rect x="86.1" y="436.9" width="1" height="1" fill="#2c1a6b" opacity="0.69"/>
<rect x="86.8" y="447.0" width="1" height="1" fill="#30123b" opacity="0.71"/>
<rect x="99.1" y="448.7" width="1" height="1" fill="#3b1550" opacity="0.77"/>
<rect x="89.5" y="445.2" width="1" height="1" fill="#2c1a6b" opacity="0.57"/>
<rect x="90.8" y="446.3" width="1" height="1" fill="#6a2060" opacity="0.79"/>
<rect x="79.3" y="451.7" width="1" height="1" fill="#4b1a5a" opacity="0.70"/>
<rect x="86.5" y="449.2" width="1" height="1" fill="#2c1a6b" opacity="0.57"/>
<rect x="90.9" y="460.0" width="1" height="1" fill="#40308a" opacity="0.51"/>
<rect x="93.2" y="443.0" width="1" height="1" fill="#4b1a5a" opacity="0.53"/>
<rect x="87.4" y="446.9" width="1" height="1" fill="#6a2060" opacity="0.49"/>
<rect x="79.5" y="452.1" width="1" height="1" fill="#3b1550" opacity="0.40"/>
<rect x="82.6" y="449.2" width="1" height="1" fill="#40308a" opacity="0.37"/>
<rect x="87.2" y="447.9" width="1" height="1" fill="#4b1a5a" opacity="0.39"/>
<rect x="89.5" y="441.0" width="1" height="1" fill="#4b1a5a" opacity="0.68"/>
<rect x="74.8" y="448.4" width="1" height="1" fill="#6a2060" opacity="0.73"/>
<rect x="78.6" y="449.7" width="1" height="1" fill="#2c1a6b" opacity="0.71"/>
<rect x="81.7" y="452.1" width="1" height="1" fill="#30123b" opacity="0.80"/>
<rect x="74.7" y="454.2" width="1" height="1" fill="#40308a" opacity="0.42"/>
<rect x="77.8" y="457.1" width="1" height="1" fill="#3b1550" opacity="0.76"/>
<rect x="72.1" y="457.9" width="1" height="1" fill="#30123b" opacity="0.83"/>
<rect x="81.1" y="452.2" width="1" height="1" fill="#3b1550" opacity="0.42"/>
<rect x="83.2" y="454.3" width="1" height="1" fill="#6a2060" opacity="0.63"/>
<rect x="75.9" y="453.8" width="1" height="1" fill="#30123b" opacity="0.47"/>
<rect x="86.6" y="455.3" width="1" height="1" fill="#3b1550" opacity="0.72"/>
<rect x="78.1" y="457.9" width="1" height="1" fill="#30123b" opacity="0.61"/>
<rect x="79.4" y="448.8" width="1" height="1" fill="#3b1550" opacity="0.77"/>
<rect x="89.5" y="455.7" width="1" height="1" fill="#4b1a5a" opacity="0.72"/>
<rect x="87.5" y="445.6" width="1" height="1" fill="#6a2060" opacity="0.39"/>
<rect x="84.7" y="447.1" width="1" height="1" fill="#3b1550" opacity="0.66"/>
<rect x="81.2" y="452.2" width="1" height="1" fill="#4b1a5a" opacity="0.52"/>
<rect x="75.4" y="452.7" width="1" height="1" fill="#40308a" opacity="0.63"/>
<rect x="84.9" y="450.1" width="1" height="1" fill="#2c1a6b" opacity="0.84"/>
<rect x="87.0" y="450.1" width="1" height="1" fill="#6a2060" opacity="0.50"/>
<rect x="78.3" y="457.0" width="1" height="1" fill="#6a2060" opacity="0.73"/>
<rect x="88.4" y="445.4" width="1" height="1" fill="#2c1a6b" opacity="0.84"/>
<rect x="66" y="477" width="1" height="1" fill="#a898bd" opacity="0.7"/>
<rect x="62" y="483" width="1" height="1" fill="#a898bd" opacity="0.7"/>
<rect x="71" y="483" width="1" height="1" fill="#a898bd" opacity="0.7"/>
<rect x="77" y="484" width="1" height="1" fill="#a898bd" opacity="0.7"/>
<rect x="84" y="466" width="1" height="1" fill="#a898bd" opacity="0.7"/>
<rect x="78" y="467" width="1" height="1" fill="#a898bd" opacity="0.7"/>
<ellipse cx="83.3" cy="451.8" rx="12.5" ry="7" fill="url(#body)" transform="rotate(-50 83.3 451.8)"/>
<ellipse cx="83.3" cy="451.8" rx="7.8" ry="4.2" fill="url(#blob)" transform="rotate(-50 83.3 451.8)"/>
<rect x="85.1" y="443.3" width="1" height="1" fill="#7a1c4a" opacity="0.35"/>
<rect x="78.6" y="457.5" width="1" height="1" fill="#7a1c4a" opacity="0.35"/>
<rect x="88.1" y="444.6" width="1" height="1" fill="#2a0c36" opacity="0.35"/>
<rect x="75.9" y="455.3" width="1" height="1" fill="#3a1046" opacity="0.35"/>
<rect x="86.5" y="453.9" width="1" height="1" fill="#2a0c36" opacity="0.35"/>
<rect x="85.3" y="451.1" width="1" height="1" fill="#7a1c4a" opacity="0.35"/>
<rect x="89.0" y="447.7" width="1" height="1" fill="#2a0c36" opacity="0.35"/>
<rect x="85.7" y="453.9" width="1" height="1" fill="#7a1c4a" opacity="0.35"/>
<rect x="74.8" y="455.5" width="1" height="1" fill="#7a1c4a" opacity="0.35"/>
<rect x="84.7" y="448.9" width="1" height="1" fill="#3a1046" opacity="0.35"/>
<rect x="78.3" y="455.8" width="1" height="1" fill="#7a1c4a" opacity="0.35"/>
<rect x="78.0" y="456.0" width="1" height="1" fill="#7a1c4a" opacity="0.35"/>
<rect x="88.3" y="450.3" width="1" height="1" fill="#2a0c36" opacity="0.35"/>
<rect x="86.3" y="444.3" width="1" height="1" fill="#2a0c36" opacity="0.35"/>
<rect x="86.5" y="445.3" width="1" height="1" fill="#7a1c4a" opacity="0.35"/>
<rect x="77.7" y="457.0" width="1" height="1" fill="#3a1046" opacity="0.35"/>
<rect x="81.3" y="459.8" width="1" height="1" fill="#7a1c4a" opacity="0.35"/>
<rect x="85.9" y="445.9" width="1" height="1" fill="#2a0c36" opacity="0.35"/>
<rect x="85.7" y="446.2" width="1" height="1" fill="#2a0c36" opacity="0.35"/>
<rect x="79.0" y="453.9" width="1" height="1" fill="#3a1046" opacity="0.35"/>
<rect x="83.0" y="455.7" width="1" height="1" fill="#7a1c4a" opacity="0.35"/>
<rect x="89.6" y="448.3" width="1" height="1" fill="#3a1046" opacity="0.35"/>
<rect x="84.6" y="455.2" width="1" height="1" fill="#3a1046" opacity="0.35"/>
<rect x="85.3" y="452.3" width="1" height="1" fill="#2a0c36" opacity="0.35"/>
<rect x="87.6" y="445.5" width="1" height="1" fill="#3a1046" opacity="0.35"/>
<rect x="87.1" y="449.2" width="1" height="1" fill="#7a1c4a" opacity="0.35"/>
<rect x="85.8" y="454.2" width="1" height="1" fill="#3a1046" opacity="0.35"/>
<rect x="78.9" y="456.6" width="1" height="1" fill="#7a1c4a" opacity="0.35"/>
<rect x="79.3" y="453.4" width="1" height="1" fill="#3a1046" opacity="0.35"/>
<rect x="87.1" y="444.1" width="1" height="1" fill="#3a1046" opacity="0.35"/>
<rect x="80.3" y="455.2" width="1" height="1" fill="#3a1046" opacity="0.35"/>
<rect x="80.0" y="451.4" width="1" height="1" fill="#2a0c36" opacity="0.35"/>
<rect x="78.5" y="457.5" width="1" height="1" fill="#7a1c4a" opacity="0.35"/>
<rect x="83.6" y="450.9" width="1" height="1" fill="#7a1c4a" opacity="0.35"/>
<rect x="88.6" y="444.9" width="1" height="1" fill="#2a0c36" opacity="0.35"/>
<text x="41.5" y="437.2" font-size="9.9" text-anchor="start" fill="#231f20" stroke="#231f20" stroke-width="0.16">Pre-ino</text>
<line x1="35.5" y1="484.1" x2="37.400000000000006" y2="484.1" stroke="#111" stroke-width="0.75"/>
<line x1="45.2" y1="491.8" x2="45.2" y2="493.7" stroke="#111" stroke-width="0.75"/>
<line x1="35.5" y1="481.5" x2="37.400000000000006" y2="481.5" stroke="#111" stroke-width="0.75"/>
<line x1="47.8" y1="491.8" x2="47.8" y2="493.7" stroke="#111" stroke-width="0.75"/>
<line x1="35.5" y1="479.6" x2="37.400000000000006" y2="479.6" stroke="#111" stroke-width="0.75"/>
<line x1="49.7" y1="491.8" x2="49.7" y2="493.7" stroke="#111" stroke-width="0.75"/>
<line x1="35.5" y1="478.2" x2="37.400000000000006" y2="478.2" stroke="#111" stroke-width="0.75"/>
<line x1="51.1" y1="491.8" x2="51.1" y2="493.7" stroke="#111" stroke-width="0.75"/>
<line x1="35.5" y1="477.0" x2="37.400000000000006" y2="477.0" stroke="#111" stroke-width="0.75"/>
<line x1="52.3" y1="491.8" x2="52.3" y2="493.7" stroke="#111" stroke-width="0.75"/>
<line x1="35.5" y1="476.0" x2="37.400000000000006" y2="476.0" stroke="#111" stroke-width="0.75"/>
<line x1="53.3" y1="491.8" x2="53.3" y2="493.7" stroke="#111" stroke-width="0.75"/>
<line x1="35.5" y1="475.2" x2="37.400000000000006" y2="475.2" stroke="#111" stroke-width="0.75"/>
<line x1="54.2" y1="491.8" x2="54.2" y2="493.7" stroke="#111" stroke-width="0.75"/>
<line x1="35.5" y1="474.4" x2="37.400000000000006" y2="474.4" stroke="#111" stroke-width="0.75"/>
<line x1="55.0" y1="491.8" x2="55.0" y2="493.7" stroke="#111" stroke-width="0.75"/>
<line x1="34.5" y1="473.8" x2="37.400000000000006" y2="473.8" stroke="#111" stroke-width="0.75"/>
<line x1="55.7" y1="491.8" x2="55.7" y2="494.7" stroke="#111" stroke-width="0.75"/>
<line x1="35.5" y1="469.3" x2="37.400000000000006" y2="469.3" stroke="#111" stroke-width="0.75"/>
<line x1="60.2" y1="491.8" x2="60.2" y2="493.7" stroke="#111" stroke-width="0.75"/>
<line x1="35.5" y1="466.7" x2="37.400000000000006" y2="466.7" stroke="#111" stroke-width="0.75"/>
<line x1="62.8" y1="491.8" x2="62.8" y2="493.7" stroke="#111" stroke-width="0.75"/>
<line x1="35.5" y1="464.9" x2="37.400000000000006" y2="464.9" stroke="#111" stroke-width="0.75"/>
<line x1="64.7" y1="491.8" x2="64.7" y2="493.7" stroke="#111" stroke-width="0.75"/>
<line x1="35.5" y1="463.4" x2="37.400000000000006" y2="463.4" stroke="#111" stroke-width="0.75"/>
<line x1="66.1" y1="491.8" x2="66.1" y2="493.7" stroke="#111" stroke-width="0.75"/>
<line x1="35.5" y1="462.3" x2="37.400000000000006" y2="462.3" stroke="#111" stroke-width="0.75"/>
<line x1="67.3" y1="491.8" x2="67.3" y2="493.7" stroke="#111" stroke-width="0.75"/>
<line x1="35.5" y1="461.3" x2="37.400000000000006" y2="461.3" stroke="#111" stroke-width="0.75"/>
<line x1="68.3" y1="491.8" x2="68.3" y2="493.7" stroke="#111" stroke-width="0.75"/>
<line x1="35.5" y1="460.4" x2="37.400000000000006" y2="460.4" stroke="#111" stroke-width="0.75"/>
<line x1="69.2" y1="491.8" x2="69.2" y2="493.7" stroke="#111" stroke-width="0.75"/>
<line x1="35.5" y1="459.7" x2="37.400000000000006" y2="459.7" stroke="#111" stroke-width="0.75"/>
<line x1="69.9" y1="491.8" x2="69.9" y2="493.7" stroke="#111" stroke-width="0.75"/>
<line x1="34.5" y1="459.0" x2="37.400000000000006" y2="459.0" stroke="#111" stroke-width="0.75"/>
<line x1="70.6" y1="491.8" x2="70.6" y2="494.7" stroke="#111" stroke-width="0.75"/>
<line x1="35.5" y1="454.6" x2="37.400000000000006" y2="454.6" stroke="#111" stroke-width="0.75"/>
<line x1="75.1" y1="491.8" x2="75.1" y2="493.7" stroke="#111" stroke-width="0.75"/>
<line x1="35.5" y1="452.0" x2="37.400000000000006" y2="452.0" stroke="#111" stroke-width="0.75"/>
<line x1="77.7" y1="491.8" x2="77.7" y2="493.7" stroke="#111" stroke-width="0.75"/>
<line x1="35.5" y1="450.1" x2="37.400000000000006" y2="450.1" stroke="#111" stroke-width="0.75"/>
<line x1="79.6" y1="491.8" x2="79.6" y2="493.7" stroke="#111" stroke-width="0.75"/>
<line x1="35.5" y1="448.7" x2="37.400000000000006" y2="448.7" stroke="#111" stroke-width="0.75"/>
<line x1="81.0" y1="491.8" x2="81.0" y2="493.7" stroke="#111" stroke-width="0.75"/>
<line x1="35.5" y1="447.5" x2="37.400000000000006" y2="447.5" stroke="#111" stroke-width="0.75"/>
<line x1="82.2" y1="491.8" x2="82.2" y2="493.7" stroke="#111" stroke-width="0.75"/>
<line x1="35.5" y1="446.5" x2="37.400000000000006" y2="446.5" stroke="#111" stroke-width="0.75"/>
<line x1="83.2" y1="491.8" x2="83.2" y2="493.7" stroke="#111" stroke-width="0.75"/>
<line x1="35.5" y1="445.7" x2="37.400000000000006" y2="445.7" stroke="#111" stroke-width="0.75"/>
<line x1="84.1" y1="491.8" x2="84.1" y2="493.7" stroke="#111" stroke-width="0.75"/>
<line x1="35.5" y1="444.9" x2="37.400000000000006" y2="444.9" stroke="#111" stroke-width="0.75"/>
<line x1="84.9" y1="491.8" x2="84.9" y2="493.7" stroke="#111" stroke-width="0.75"/>
<line x1="34.5" y1="444.2" x2="37.400000000000006" y2="444.2" stroke="#111" stroke-width="0.75"/>
<line x1="85.5" y1="491.8" x2="85.5" y2="494.7" stroke="#111" stroke-width="0.75"/>
<line x1="35.5" y1="439.8" x2="37.400000000000006" y2="439.8" stroke="#111" stroke-width="0.75"/>
<line x1="90.1" y1="491.8" x2="90.1" y2="493.7" stroke="#111" stroke-width="0.75"/>
<line x1="35.5" y1="437.2" x2="37.400000000000006" y2="437.2" stroke="#111" stroke-width="0.75"/>
<line x1="92.7" y1="491.8" x2="92.7" y2="493.7" stroke="#111" stroke-width="0.75"/>
<line x1="35.5" y1="435.4" x2="37.400000000000006" y2="435.4" stroke="#111" stroke-width="0.75"/>
<line x1="94.6" y1="491.8" x2="94.6" y2="493.7" stroke="#111" stroke-width="0.75"/>
<line x1="35.5" y1="433.9" x2="37.400000000000006" y2="433.9" stroke="#111" stroke-width="0.75"/>
<line x1="96.0" y1="491.8" x2="96.0" y2="493.7" stroke="#111" stroke-width="0.75"/>
<line x1="35.5" y1="432.8" x2="37.400000000000006" y2="432.8" stroke="#111" stroke-width="0.75"/>
<line x1="97.2" y1="491.8" x2="97.2" y2="493.7" stroke="#111" stroke-width="0.75"/>
<line x1="35.5" y1="431.8" x2="37.400000000000006" y2="431.8" stroke="#111" stroke-width="0.75"/>
<line x1="98.2" y1="491.8" x2="98.2" y2="493.7" stroke="#111" stroke-width="0.75"/>
<line x1="35.5" y1="430.9" x2="37.400000000000006" y2="430.9" stroke="#111" stroke-width="0.75"/>
<line x1="99.1" y1="491.8" x2="99.1" y2="493.7" stroke="#111" stroke-width="0.75"/>
<line x1="35.5" y1="430.2" x2="37.400000000000006" y2="430.2" stroke="#111" stroke-width="0.75"/>
<line x1="99.8" y1="491.8" x2="99.8" y2="493.7" stroke="#111" stroke-width="0.75"/>
<line x1="34.5" y1="429.5" x2="37.400000000000006" y2="429.5" stroke="#111" stroke-width="0.75"/>
<line x1="100.5" y1="491.8" x2="100.5" y2="494.7" stroke="#111" stroke-width="0.75"/>
<rect x="35.30" y="474.50" width="2.40" height="7.00" fill="#111"/>
<rect x="42.20" y="491.80" width="8.50" height="3.20" fill="#111"/>
<rect x="38.10" y="497.40" width="65.40" height="65.60" fill="#fff" stroke="#8a8a8a" stroke-width="1.2" rx="1"/>
<ellipse cx="65.5" cy="522.6" rx="24.1" ry="9.4" fill="url(#halo)" transform="rotate(-9 65.5 522.6)"/>
<rect x="58.6" y="522.8" width="1" height="1" fill="#4b1a5a" opacity="0.52"/>
<rect x="71.7" y="523.3" width="1" height="1" fill="#2c1a6b" opacity="0.75"/>
<rect x="66.2" y="523.3" width="1" height="1" fill="#6a2060" opacity="0.54"/>
<rect x="64.9" y="519.8" width="1" height="1" fill="#2c1a6b" opacity="0.52"/>
<rect x="72.8" y="522.7" width="1" height="1" fill="#2c1a6b" opacity="0.41"/>
<rect x="52.1" y="524.6" width="1" height="1" fill="#4b1a5a" opacity="0.40"/>
<rect x="72.6" y="519.0" width="1" height="1" fill="#30123b" opacity="0.57"/>
<rect x="82.8" y="517.5" width="1" height="1" fill="#3b1550" opacity="0.41"/>
<rect x="51.6" y="528.0" width="1" height="1" fill="#6a2060" opacity="0.83"/>
<rect x="61.8" y="523.3" width="1" height="1" fill="#40308a" opacity="0.78"/>
<rect x="72.5" y="520.9" width="1" height="1" fill="#3b1550" opacity="0.46"/>
<rect x="81.6" y="529.2" width="1" height="1" fill="#3b1550" opacity="0.82"/>
<rect x="62.2" y="517.2" width="1" height="1" fill="#6a2060" opacity="0.39"/>
<rect x="65.5" y="522.4" width="1" height="1" fill="#4b1a5a" opacity="0.47"/>
<rect x="77.0" y="517.9" width="1" height="1" fill="#2c1a6b" opacity="0.83"/>
<rect x="56.8" y="520.3" width="1" height="1" fill="#6a2060" opacity="0.70"/>
<rect x="68.4" y="523.2" width="1" height="1" fill="#40308a" opacity="0.82"/>
<rect x="68.6" y="525.2" width="1" height="1" fill="#40308a" opacity="0.35"/>
<rect x="64.6" y="526.4" width="1" height="1" fill="#4b1a5a" opacity="0.59"/>
<rect x="66.7" y="525.6" width="1" height="1" fill="#6a2060" opacity="0.70"/>
<rect x="64.9" y="523.5" width="1" height="1" fill="#6a2060" opacity="0.79"/>
<rect x="62.9" y="521.6" width="1" height="1" fill="#4b1a5a" opacity="0.68"/>
<rect x="71.4" y="520.3" width="1" height="1" fill="#3b1550" opacity="0.70"/>
<rect x="63.1" y="519.1" width="1" height="1" fill="#6a2060" opacity="0.45"/>
<rect x="69.0" y="515.4" width="1" height="1" fill="#40308a" opacity="0.38"/>
<rect x="59.2" y="523.7" width="1" height="1" fill="#4b1a5a" opacity="0.47"/>
<rect x="69.4" y="529.0" width="1" height="1" fill="#2c1a6b" opacity="0.40"/>
<rect x="55.6" y="520.1" width="1" height="1" fill="#4b1a5a" opacity="0.59"/>
<rect x="68.1" y="521.4" width="1" height="1" fill="#40308a" opacity="0.42"/>
<rect x="60.6" y="525.2" width="1" height="1" fill="#40308a" opacity="0.42"/>
<rect x="68.7" y="522.6" width="1" height="1" fill="#6a2060" opacity="0.57"/>
<rect x="63.0" y="519.4" width="1" height="1" fill="#3b1550" opacity="0.85"/>
<rect x="73.0" y="519.8" width="1" height="1" fill="#4b1a5a" opacity="0.68"/>
<rect x="54.8" y="523.6" width="1" height="1" fill="#2c1a6b" opacity="0.68"/>
<rect x="59.3" y="526.4" width="1" height="1" fill="#2c1a6b" opacity="0.57"/>
<rect x="68.6" y="523.2" width="1" height="1" fill="#3b1550" opacity="0.53"/>
<rect x="70.1" y="521.3" width="1" height="1" fill="#4b1a5a" opacity="0.54"/>
<rect x="65.9" y="518.9" width="1" height="1" fill="#6a2060" opacity="0.39"/>
<rect x="63.3" y="520.3" width="1" height="1" fill="#40308a" opacity="0.81"/>
<rect x="69.2" y="525.8" width="1" height="1" fill="#6a2060" opacity="0.37"/>
<rect x="51.4" y="528.9" width="1" height="1" fill="#6a2060" opacity="0.37"/>
<rect x="68.9" y="522.4" width="1" height="1" fill="#3b1550" opacity="0.48"/>
<rect x="63.8" y="513.9" width="1" height="1" fill="#2c1a6b" opacity="0.53"/>
<rect x="54.9" y="533.3" width="1" height="1" fill="#3b1550" opacity="0.48"/>
<rect x="63.2" y="519.4" width="1" height="1" fill="#2c1a6b" opacity="0.50"/>
<rect x="62.4" y="517.5" width="1" height="1" fill="#30123b" opacity="0.82"/>
<rect x="82.3" y="523.1" width="1" height="1" fill="#3b1550" opacity="0.59"/>
<rect x="87.8" y="516.3" width="1" height="1" fill="#6a2060" opacity="0.74"/>
<rect x="79.8" y="516.3" width="1" height="1" fill="#4b1a5a" opacity="0.81"/>
<rect x="73.6" y="528.2" width="1" height="1" fill="#30123b" opacity="0.50"/>
<rect x="63.2" y="520.7" width="1" height="1" fill="#4b1a5a" opacity="0.51"/>
<rect x="62.2" y="526.7" width="1" height="1" fill="#40308a" opacity="0.39"/>
<rect x="71.7" y="528.3" width="1" height="1" fill="#4b1a5a" opacity="0.55"/>
<rect x="58.5" y="519.8" width="1" height="1" fill="#40308a" opacity="0.51"/>
<rect x="84.9" y="518.5" width="1" height="1" fill="#3b1550" opacity="0.48"/>
<rect x="69.3" y="522.9" width="1" height="1" fill="#6a2060" opacity="0.84"/>
<rect x="71.2" y="521.2" width="1" height="1" fill="#4b1a5a" opacity="0.56"/>
<rect x="54.5" y="520.0" width="1" height="1" fill="#30123b" opacity="0.62"/>
<rect x="66.8" y="515.4" width="1" height="1" fill="#2c1a6b" opacity="0.50"/>
<rect x="56.9" y="522.3" width="1" height="1" fill="#30123b" opacity="0.48"/>
<rect x="60.0" y="524.5" width="1" height="1" fill="#4b1a5a" opacity="0.43"/>
<rect x="74.3" y="517.5" width="1" height="1" fill="#2c1a6b" opacity="0.38"/>
<rect x="65.9" y="525.7" width="1" height="1" fill="#40308a" opacity="0.47"/>
<rect x="69.6" y="516.2" width="1" height="1" fill="#3b1550" opacity="0.40"/>
<rect x="48.3" y="526.5" width="1" height="1" fill="#6a2060" opacity="0.81"/>
<rect x="73.3" y="522.2" width="1" height="1" fill="#3b1550" opacity="0.38"/>
<rect x="50.4" y="520.3" width="1" height="1" fill="#4b1a5a" opacity="0.82"/>
<rect x="53.2" y="530.6" width="1" height="1" fill="#6a2060" opacity="0.65"/>
<rect x="66.7" y="516.3" width="1" height="1" fill="#3b1550" opacity="0.40"/>
<rect x="54.1" y="521.1" width="1" height="1" fill="#4b1a5a" opacity="0.37"/>
<rect x="64.1" y="523.9" width="1" height="1" fill="#2c1a6b" opacity="0.37"/>
<rect x="61.7" y="513.9" width="1" height="1" fill="#3b1550" opacity="0.76"/>
<rect x="58.1" y="526.0" width="1" height="1" fill="#40308a" opacity="0.51"/>
<rect x="71.5" y="528.8" width="1" height="1" fill="#40308a" opacity="0.59"/>
<rect x="51.9" y="528.8" width="1" height="1" fill="#30123b" opacity="0.63"/>
<rect x="62.6" y="521.6" width="1" height="1" fill="#4b1a5a" opacity="0.55"/>
<rect x="63.7" y="535.3" width="1" height="1" fill="#30123b" opacity="0.50"/>
<rect x="73.2" y="520.3" width="1" height="1" fill="#40308a" opacity="0.79"/>
<rect x="64.0" y="523.3" width="1" height="1" fill="#2c1a6b" opacity="0.67"/>
<rect x="58.4" y="526.4" width="1" height="1" fill="#3b1550" opacity="0.57"/>
<rect x="68.3" y="523.9" width="1" height="1" fill="#3b1550" opacity="0.55"/>
<rect x="72.8" y="518.3" width="1" height="1" fill="#4b1a5a" opacity="0.41"/>
<rect x="70.6" y="522.5" width="1" height="1" fill="#6a2060" opacity="0.39"/>
<rect x="58.5" y="520.9" width="1" height="1" fill="#40308a" opacity="0.44"/>
<rect x="62.6" y="525.1" width="1" height="1" fill="#4b1a5a" opacity="0.81"/>
<rect x="74.5" y="524.3" width="1" height="1" fill="#4b1a5a" opacity="0.50"/>
<rect x="66.8" y="521.3" width="1" height="1" fill="#6a2060" opacity="0.51"/>
<rect x="54.4" y="520.6" width="1" height="1" fill="#3b1550" opacity="0.80"/>
<rect x="51.8" y="519.4" width="1" height="1" fill="#4b1a5a" opacity="0.67"/>
<rect x="73.0" y="516.8" width="1" height="1" fill="#40308a" opacity="0.77"/>
<rect x="68.0" y="519.9" width="1" height="1" fill="#4b1a5a" opacity="0.37"/>
<rect x="70.5" y="520.9" width="1" height="1" fill="#2c1a6b" opacity="0.41"/>
<rect x="66.8" y="529.1" width="1" height="1" fill="#4b1a5a" opacity="0.37"/>
<rect x="50.3" y="522.3" width="1" height="1" fill="#3b1550" opacity="0.68"/>
<rect x="61.8" y="526.9" width="1" height="1" fill="#6a2060" opacity="0.63"/>
<rect x="59.4" y="521.0" width="1" height="1" fill="#6a2060" opacity="0.50"/>
<rect x="66.2" y="526.7" width="1" height="1" fill="#2c1a6b" opacity="0.57"/>
<rect x="63.6" y="523.2" width="1" height="1" fill="#40308a" opacity="0.84"/>
<rect x="55.6" y="525.2" width="1" height="1" fill="#40308a" opacity="0.74"/>
<rect x="59.8" y="524.2" width="1" height="1" fill="#6a2060" opacity="0.55"/>
<rect x="73.9" y="522.9" width="1" height="1" fill="#2c1a6b" opacity="0.40"/>
<rect x="55.2" y="526.0" width="1" height="1" fill="#3b1550" opacity="0.37"/>
<rect x="81.2" y="527.0" width="1" height="1" fill="#2c1a6b" opacity="0.74"/>
<rect x="62.3" y="523.0" width="1" height="1" fill="#40308a" opacity="0.80"/>
<rect x="55.0" y="518.2" width="1" height="1" fill="#3b1550" opacity="0.78"/>
<rect x="80.9" y="520.0" width="1" height="1" fill="#3b1550" opacity="0.45"/>
<rect x="76.4" y="520.3" width="1" height="1" fill="#4b1a5a" opacity="0.69"/>
<rect x="63.8" y="519.9" width="1" height="1" fill="#2c1a6b" opacity="0.66"/>
<rect x="66.0" y="526.2" width="1" height="1" fill="#40308a" opacity="0.49"/>
<rect x="67.3" y="520.2" width="1" height="1" fill="#40308a" opacity="0.83"/>
<rect x="53.0" y="525.3" width="1" height="1" fill="#40308a" opacity="0.60"/>
<rect x="64.6" y="523.8" width="1" height="1" fill="#4b1a5a" opacity="0.55"/>
<rect x="60.1" y="520.9" width="1" height="1" fill="#2c1a6b" opacity="0.80"/>
<rect x="74.6" y="527.6" width="1" height="1" fill="#3b1550" opacity="0.73"/>
<rect x="83.8" y="522.2" width="1" height="1" fill="#6a2060" opacity="0.63"/>
<rect x="47.6" y="521.2" width="1" height="1" fill="#3b1550" opacity="0.48"/>
<rect x="47.0" y="523.7" width="1" height="1" fill="#30123b" opacity="0.75"/>
<rect x="64.8" y="535.5" width="1" height="1" fill="#40308a" opacity="0.42"/>
<rect x="63.8" y="524.4" width="1" height="1" fill="#4b1a5a" opacity="0.44"/>
<rect x="65.2" y="521.3" width="1" height="1" fill="#40308a" opacity="0.48"/>
<rect x="46.5" y="516.3" width="1" height="1" fill="#40308a" opacity="0.81"/>
<rect x="77.1" y="516.6" width="1" height="1" fill="#30123b" opacity="0.37"/>
<rect x="74.0" y="525.9" width="1" height="1" fill="#6a2060" opacity="0.56"/>
<rect x="63.7" y="523.9" width="1" height="1" fill="#6a2060" opacity="0.46"/>
<rect x="64.2" y="522.1" width="1" height="1" fill="#3b1550" opacity="0.63"/>
<rect x="62.4" y="527.9" width="1" height="1" fill="#40308a" opacity="0.46"/>
<rect x="54.1" y="521.6" width="1" height="1" fill="#4b1a5a" opacity="0.53"/>
<rect x="67.8" y="520.1" width="1" height="1" fill="#3b1550" opacity="0.82"/>
<rect x="66.1" y="524.9" width="1" height="1" fill="#3b1550" opacity="0.38"/>
<rect x="74.9" y="526.0" width="1" height="1" fill="#2c1a6b" opacity="0.55"/>
<rect x="65.5" y="523.2" width="1" height="1" fill="#30123b" opacity="0.76"/>
<rect x="74.9" y="517.6" width="1" height="1" fill="#40308a" opacity="0.57"/>
<rect x="79.4" y="517.8" width="1" height="1" fill="#4b1a5a" opacity="0.43"/>
<rect x="68.9" y="522.1" width="1" height="1" fill="#3b1550" opacity="0.55"/>
<rect x="66.0" y="524.0" width="1" height="1" fill="#3b1550" opacity="0.36"/>
<rect x="43.6" y="522.9" width="1" height="1" fill="#4b1a5a" opacity="0.56"/>
<rect x="51.9" y="524.1" width="1" height="1" fill="#30123b" opacity="0.67"/>
<rect x="67.4" y="519.9" width="1" height="1" fill="#2c1a6b" opacity="0.38"/>
<rect x="42.6" y="516.6" width="1" height="1" fill="#30123b" opacity="0.74"/>
<rect x="65.2" y="522.2" width="1" height="1" fill="#6a2060" opacity="0.72"/>
<rect x="50.5" y="526.5" width="1" height="1" fill="#6a2060" opacity="0.44"/>
<rect x="72.9" y="521.4" width="1" height="1" fill="#30123b" opacity="0.37"/>
<rect x="58.3" y="529.7" width="1" height="1" fill="#30123b" opacity="0.82"/>
<rect x="65.5" y="524.0" width="1" height="1" fill="#30123b" opacity="0.63"/>
<rect x="50.5" y="527.9" width="1" height="1" fill="#40308a" opacity="0.84"/>
<rect x="60.8" y="532.6" width="1" height="1" fill="#4b1a5a" opacity="0.39"/>
<rect x="59.7" y="523.4" width="1" height="1" fill="#4b1a5a" opacity="0.77"/>
<rect x="67.5" y="524.7" width="1" height="1" fill="#2c1a6b" opacity="0.45"/>
<rect x="56.2" y="527.7" width="1" height="1" fill="#6a2060" opacity="0.80"/>
<rect x="54.8" y="519.6" width="1" height="1" fill="#30123b" opacity="0.77"/>
<rect x="54.9" y="523.2" width="1" height="1" fill="#40308a" opacity="0.70"/>
<rect x="71.3" y="518.2" width="1" height="1" fill="#30123b" opacity="0.47"/>
<rect x="77.3" y="515.8" width="1" height="1" fill="#6a2060" opacity="0.66"/>
<rect x="84.6" y="523.9" width="1" height="1" fill="#4b1a5a" opacity="0.37"/>
<rect x="76.2" y="524.7" width="1" height="1" fill="#4b1a5a" opacity="0.52"/>
<rect x="67.1" y="523.1" width="1" height="1" fill="#3b1550" opacity="0.42"/>
<rect x="63.6" y="521.9" width="1" height="1" fill="#3b1550" opacity="0.72"/>
<rect x="77.5" y="523.0" width="1" height="1" fill="#2c1a6b" opacity="0.45"/>
<rect x="76.5" y="519.4" width="1" height="1" fill="#30123b" opacity="0.38"/>
<rect x="78.6" y="513.6" width="1" height="1" fill="#6a2060" opacity="0.40"/>
<rect x="67.1" y="524.3" width="1" height="1" fill="#3b1550" opacity="0.82"/>
<rect x="78.4" y="516.8" width="1" height="1" fill="#3b1550" opacity="0.76"/>
<rect x="59.8" y="521.0" width="1" height="1" fill="#3b1550" opacity="0.42"/>
<rect x="68.2" y="516.3" width="1" height="1" fill="#2c1a6b" opacity="0.51"/>
<rect x="63.8" y="523.3" width="1" height="1" fill="#2c1a6b" opacity="0.82"/>
<rect x="81.1" y="522.3" width="1" height="1" fill="#2c1a6b" opacity="0.73"/>
<rect x="56.4" y="521.2" width="1" height="1" fill="#2c1a6b" opacity="0.66"/>
<rect x="75.3" y="521.9" width="1" height="1" fill="#6a2060" opacity="0.61"/>
<rect x="74.6" y="523.9" width="1" height="1" fill="#3b1550" opacity="0.62"/>
<rect x="70.7" y="530.0" width="1" height="1" fill="#3b1550" opacity="0.64"/>
<rect x="63.8" y="527.2" width="1" height="1" fill="#40308a" opacity="0.45"/>
<rect x="65.7" y="511.0" width="1" height="1" fill="#3b1550" opacity="0.52"/>
<rect x="78.1" y="524.3" width="1" height="1" fill="#4b1a5a" opacity="0.83"/>
<rect x="44.7" y="520.1" width="1" height="1" fill="#40308a" opacity="0.48"/>
<rect x="72.6" y="520.3" width="1" height="1" fill="#4b1a5a" opacity="0.82"/>
<rect x="66.6" y="524.9" width="1" height="1" fill="#30123b" opacity="0.73"/>
<rect x="61.2" y="522.5" width="1" height="1" fill="#2c1a6b" opacity="0.53"/>
<rect x="58.1" y="526.2" width="1" height="1" fill="#30123b" opacity="0.39"/>
<rect x="67.0" y="521.7" width="1" height="1" fill="#4b1a5a" opacity="0.50"/>
<rect x="55.1" y="526.5" width="1" height="1" fill="#4b1a5a" opacity="0.54"/>
<rect x="70.4" y="519.8" width="1" height="1" fill="#6a2060" opacity="0.41"/>
<rect x="52.9" y="521.0" width="1" height="1" fill="#40308a" opacity="0.67"/>
<rect x="61.1" y="526.3" width="1" height="1" fill="#4b1a5a" opacity="0.78"/>
<rect x="54.3" y="526.0" width="1" height="1" fill="#2c1a6b" opacity="0.43"/>
<rect x="50.7" y="527.7" width="1" height="1" fill="#40308a" opacity="0.47"/>
<rect x="59.4" y="528.8" width="1" height="1" fill="#30123b" opacity="0.47"/>
<rect x="68.9" y="525.4" width="1" height="1" fill="#30123b" opacity="0.76"/>
<rect x="53.5" y="520.0" width="1" height="1" fill="#4b1a5a" opacity="0.71"/>
<rect x="58.1" y="521.4" width="1" height="1" fill="#4b1a5a" opacity="0.51"/>
<rect x="76.8" y="531.4" width="1" height="1" fill="#30123b" opacity="0.85"/>
<rect x="73.4" y="526.6" width="1" height="1" fill="#4b1a5a" opacity="0.54"/>
<rect x="82.2" y="519.2" width="1" height="1" fill="#30123b" opacity="0.50"/>
<rect x="65.1" y="524.7" width="1" height="1" fill="#3b1550" opacity="0.49"/>
<rect x="73.0" y="518.3" width="1" height="1" fill="#3b1550" opacity="0.55"/>
<rect x="68.3" y="515.9" width="1" height="1" fill="#40308a" opacity="0.84"/>
<rect x="65.1" y="523.5" width="1" height="1" fill="#2c1a6b" opacity="0.65"/>
<rect x="53.2" y="528.4" width="1" height="1" fill="#6a2060" opacity="0.70"/>
<rect x="53.3" y="521.4" width="1" height="1" fill="#4b1a5a" opacity="0.68"/>
<rect x="82" y="545" width="1" height="1" fill="#a898bd" opacity="0.7"/>
<rect x="68" y="548" width="1" height="1" fill="#a898bd" opacity="0.7"/>
<rect x="74" y="553" width="1" height="1" fill="#a898bd" opacity="0.7"/>
<rect x="79" y="557" width="1" height="1" fill="#a898bd" opacity="0.7"/>
<rect x="63" y="554" width="1" height="1" fill="#a898bd" opacity="0.7"/>
<rect x="85" y="537" width="1" height="1" fill="#a898bd" opacity="0.7"/>
<ellipse cx="65.5" cy="522.6" rx="18.5" ry="6.7" fill="url(#body)" transform="rotate(-9 65.5 522.6)"/>
<ellipse cx="69.0" cy="522.1" rx="9.2" ry="4.0" fill="url(#blob)" transform="rotate(-9 69.0 522.1)"/>
<rect x="69.9" y="525.0" width="1" height="1" fill="#3a1046" opacity="0.35"/>
<rect x="71.1" y="524.6" width="1" height="1" fill="#3a1046" opacity="0.35"/>
<rect x="56.9" y="520.9" width="1" height="1" fill="#7a1c4a" opacity="0.35"/>
<rect x="60.9" y="524.4" width="1" height="1" fill="#2a0c36" opacity="0.35"/>
<rect x="75.3" y="519.0" width="1" height="1" fill="#7a1c4a" opacity="0.35"/>
<rect x="71.1" y="522.8" width="1" height="1" fill="#7a1c4a" opacity="0.35"/>
<rect x="74.4" y="521.0" width="1" height="1" fill="#2a0c36" opacity="0.35"/>
<rect x="68.5" y="521.4" width="1" height="1" fill="#3a1046" opacity="0.35"/>
<rect x="70.1" y="524.9" width="1" height="1" fill="#3a1046" opacity="0.35"/>
<rect x="60.5" y="519.4" width="1" height="1" fill="#7a1c4a" opacity="0.35"/>
<rect x="75.4" y="517.8" width="1" height="1" fill="#7a1c4a" opacity="0.35"/>
<rect x="66.2" y="519.7" width="1" height="1" fill="#2a0c36" opacity="0.35"/>
<rect x="65.5" y="519.4" width="1" height="1" fill="#3a1046" opacity="0.35"/>
<rect x="64.0" y="520.4" width="1" height="1" fill="#7a1c4a" opacity="0.35"/>
<rect x="66.0" y="523.7" width="1" height="1" fill="#7a1c4a" opacity="0.35"/>
<rect x="65.9" y="521.8" width="1" height="1" fill="#7a1c4a" opacity="0.35"/>
<rect x="58.3" y="525.2" width="1" height="1" fill="#7a1c4a" opacity="0.35"/>
<rect x="66.4" y="526.0" width="1" height="1" fill="#3a1046" opacity="0.35"/>
<rect x="77.7" y="519.5" width="1" height="1" fill="#2a0c36" opacity="0.35"/>
<rect x="59.0" y="522.7" width="1" height="1" fill="#2a0c36" opacity="0.35"/>
<rect x="52.9" y="523.9" width="1" height="1" fill="#7a1c4a" opacity="0.35"/>
<rect x="69.0" y="523.5" width="1" height="1" fill="#3a1046" opacity="0.35"/>
<rect x="59.1" y="521.4" width="1" height="1" fill="#3a1046" opacity="0.35"/>
<rect x="63.5" y="526.6" width="1" height="1" fill="#2a0c36" opacity="0.35"/>
<rect x="78.7" y="524.3" width="1" height="1" fill="#7a1c4a" opacity="0.35"/>
<rect x="57.7" y="520.8" width="1" height="1" fill="#2a0c36" opacity="0.35"/>
<rect x="73.6" y="522.4" width="1" height="1" fill="#7a1c4a" opacity="0.35"/>
<rect x="69.4" y="523.8" width="1" height="1" fill="#2a0c36" opacity="0.35"/>
<rect x="61.9" y="524.3" width="1" height="1" fill="#7a1c4a" opacity="0.35"/>
<rect x="64.4" y="521.1" width="1" height="1" fill="#3a1046" opacity="0.35"/>
<rect x="69.7" y="524.2" width="1" height="1" fill="#7a1c4a" opacity="0.35"/>
<rect x="62.2" y="526.0" width="1" height="1" fill="#7a1c4a" opacity="0.35"/>
<rect x="71.0" y="523.3" width="1" height="1" fill="#7a1c4a" opacity="0.35"/>
<rect x="70.1" y="521.7" width="1" height="1" fill="#3a1046" opacity="0.35"/>
<rect x="73.0" y="520.3" width="1" height="1" fill="#3a1046" opacity="0.35"/>
<rect x="60.4" y="523.2" width="1" height="1" fill="#7a1c4a" opacity="0.35"/>
<rect x="68.1" y="518.8" width="1" height="1" fill="#7a1c4a" opacity="0.35"/>
<rect x="56.4" y="522.4" width="1" height="1" fill="#7a1c4a" opacity="0.35"/>
<rect x="54.6" y="527.0" width="1" height="1" fill="#7a1c4a" opacity="0.35"/>
<rect x="72.3" y="518.6" width="1" height="1" fill="#7a1c4a" opacity="0.35"/>
<rect x="68.3" y="518.2" width="1" height="1" fill="#2a0c36" opacity="0.35"/>
<rect x="57.5" y="520.4" width="1" height="1" fill="#7a1c4a" opacity="0.35"/>
<rect x="58.6" y="520.4" width="1" height="1" fill="#2a0c36" opacity="0.35"/>
<rect x="74.2" y="518.7" width="1" height="1" fill="#7a1c4a" opacity="0.35"/>
<rect x="61.1" y="520.5" width="1" height="1" fill="#7a1c4a" opacity="0.35"/>
<rect x="72.5" y="518.8" width="1" height="1" fill="#3a1046" opacity="0.35"/>
<rect x="68.6" y="524.4" width="1" height="1" fill="#3a1046" opacity="0.35"/>
<rect x="75.8" y="521.4" width="1" height="1" fill="#3a1046" opacity="0.35"/>
<rect x="73.8" y="518.8" width="1" height="1" fill="#3a1046" opacity="0.35"/>
<rect x="57.6" y="520.4" width="1" height="1" fill="#7a1c4a" opacity="0.35"/>
<text x="41.9" y="508.09999999999997" font-size="9.9" text-anchor="start" fill="#231f20" stroke="#231f20" stroke-width="0.16">Post-ino</text>
<line x1="35.9" y1="555.5" x2="37.800000000000004" y2="555.5" stroke="#111" stroke-width="0.75"/>
<line x1="45.6" y1="563.3" x2="45.6" y2="565.2" stroke="#111" stroke-width="0.75"/>
<line x1="35.9" y1="552.9" x2="37.800000000000004" y2="552.9" stroke="#111" stroke-width="0.75"/>
<line x1="48.2" y1="563.3" x2="48.2" y2="565.2" stroke="#111" stroke-width="0.75"/>
<line x1="35.9" y1="551.0" x2="37.800000000000004" y2="551.0" stroke="#111" stroke-width="0.75"/>
<line x1="50.0" y1="563.3" x2="50.0" y2="565.2" stroke="#111" stroke-width="0.75"/>
<line x1="35.9" y1="549.6" x2="37.800000000000004" y2="549.6" stroke="#111" stroke-width="0.75"/>
<line x1="51.5" y1="563.3" x2="51.5" y2="565.2" stroke="#111" stroke-width="0.75"/>
<line x1="35.9" y1="548.4" x2="37.800000000000004" y2="548.4" stroke="#111" stroke-width="0.75"/>
<line x1="52.7" y1="563.3" x2="52.7" y2="565.2" stroke="#111" stroke-width="0.75"/>
<line x1="35.9" y1="547.4" x2="37.800000000000004" y2="547.4" stroke="#111" stroke-width="0.75"/>
<line x1="53.6" y1="563.3" x2="53.6" y2="565.2" stroke="#111" stroke-width="0.75"/>
<line x1="35.9" y1="546.5" x2="37.800000000000004" y2="546.5" stroke="#111" stroke-width="0.75"/>
<line x1="54.5" y1="563.3" x2="54.5" y2="565.2" stroke="#111" stroke-width="0.75"/>
<line x1="35.9" y1="545.8" x2="37.800000000000004" y2="545.8" stroke="#111" stroke-width="0.75"/>
<line x1="55.3" y1="563.3" x2="55.3" y2="565.2" stroke="#111" stroke-width="0.75"/>
<line x1="34.9" y1="545.1" x2="37.800000000000004" y2="545.1" stroke="#111" stroke-width="0.75"/>
<line x1="56.0" y1="563.3" x2="56.0" y2="566.2" stroke="#111" stroke-width="0.75"/>
<line x1="35.9" y1="540.6" x2="37.800000000000004" y2="540.6" stroke="#111" stroke-width="0.75"/>
<line x1="60.4" y1="563.3" x2="60.4" y2="565.2" stroke="#111" stroke-width="0.75"/>
<line x1="35.9" y1="538.0" x2="37.800000000000004" y2="538.0" stroke="#111" stroke-width="0.75"/>
<line x1="63.0" y1="563.3" x2="63.0" y2="565.2" stroke="#111" stroke-width="0.75"/>
<line x1="35.9" y1="536.1" x2="37.800000000000004" y2="536.1" stroke="#111" stroke-width="0.75"/>
<line x1="64.9" y1="563.3" x2="64.9" y2="565.2" stroke="#111" stroke-width="0.75"/>
<line x1="35.9" y1="534.7" x2="37.800000000000004" y2="534.7" stroke="#111" stroke-width="0.75"/>
<line x1="66.3" y1="563.3" x2="66.3" y2="565.2" stroke="#111" stroke-width="0.75"/>
<line x1="35.9" y1="533.5" x2="37.800000000000004" y2="533.5" stroke="#111" stroke-width="0.75"/>
<line x1="67.5" y1="563.3" x2="67.5" y2="565.2" stroke="#111" stroke-width="0.75"/>
<line x1="35.9" y1="532.5" x2="37.800000000000004" y2="532.5" stroke="#111" stroke-width="0.75"/>
<line x1="68.5" y1="563.3" x2="68.5" y2="565.2" stroke="#111" stroke-width="0.75"/>
<line x1="35.9" y1="531.6" x2="37.800000000000004" y2="531.6" stroke="#111" stroke-width="0.75"/>
<line x1="69.4" y1="563.3" x2="69.4" y2="565.2" stroke="#111" stroke-width="0.75"/>
<line x1="35.9" y1="530.9" x2="37.800000000000004" y2="530.9" stroke="#111" stroke-width="0.75"/>
<line x1="70.1" y1="563.3" x2="70.1" y2="565.2" stroke="#111" stroke-width="0.75"/>
<line x1="34.9" y1="530.2" x2="37.800000000000004" y2="530.2" stroke="#111" stroke-width="0.75"/>
<line x1="70.8" y1="563.3" x2="70.8" y2="566.2" stroke="#111" stroke-width="0.75"/>
<line x1="35.9" y1="525.7" x2="37.800000000000004" y2="525.7" stroke="#111" stroke-width="0.75"/>
<line x1="75.3" y1="563.3" x2="75.3" y2="565.2" stroke="#111" stroke-width="0.75"/>
<line x1="35.9" y1="523.1" x2="37.800000000000004" y2="523.1" stroke="#111" stroke-width="0.75"/>
<line x1="77.9" y1="563.3" x2="77.9" y2="565.2" stroke="#111" stroke-width="0.75"/>
<line x1="35.9" y1="521.2" x2="37.800000000000004" y2="521.2" stroke="#111" stroke-width="0.75"/>
<line x1="79.7" y1="563.3" x2="79.7" y2="565.2" stroke="#111" stroke-width="0.75"/>
<line x1="35.9" y1="519.8" x2="37.800000000000004" y2="519.8" stroke="#111" stroke-width="0.75"/>
<line x1="81.2" y1="563.3" x2="81.2" y2="565.2" stroke="#111" stroke-width="0.75"/>
<line x1="35.9" y1="518.6" x2="37.800000000000004" y2="518.6" stroke="#111" stroke-width="0.75"/>
<line x1="82.4" y1="563.3" x2="82.4" y2="565.2" stroke="#111" stroke-width="0.75"/>
<line x1="35.9" y1="517.6" x2="37.800000000000004" y2="517.6" stroke="#111" stroke-width="0.75"/>
<line x1="83.3" y1="563.3" x2="83.3" y2="565.2" stroke="#111" stroke-width="0.75"/>
<line x1="35.9" y1="516.7" x2="37.800000000000004" y2="516.7" stroke="#111" stroke-width="0.75"/>
<line x1="84.2" y1="563.3" x2="84.2" y2="565.2" stroke="#111" stroke-width="0.75"/>
<line x1="35.9" y1="516.0" x2="37.800000000000004" y2="516.0" stroke="#111" stroke-width="0.75"/>
<line x1="85.0" y1="563.3" x2="85.0" y2="565.2" stroke="#111" stroke-width="0.75"/>
<line x1="34.9" y1="515.3" x2="37.800000000000004" y2="515.3" stroke="#111" stroke-width="0.75"/>
<line x1="85.7" y1="563.3" x2="85.7" y2="566.2" stroke="#111" stroke-width="0.75"/>
<line x1="35.9" y1="510.8" x2="37.800000000000004" y2="510.8" stroke="#111" stroke-width="0.75"/>
<line x1="90.1" y1="563.3" x2="90.1" y2="565.2" stroke="#111" stroke-width="0.75"/>
<line x1="35.9" y1="508.2" x2="37.800000000000004" y2="508.2" stroke="#111" stroke-width="0.75"/>
<line x1="92.7" y1="563.3" x2="92.7" y2="565.2" stroke="#111" stroke-width="0.75"/>
<line x1="35.9" y1="506.3" x2="37.800000000000004" y2="506.3" stroke="#111" stroke-width="0.75"/>
<line x1="94.6" y1="563.3" x2="94.6" y2="565.2" stroke="#111" stroke-width="0.75"/>
<line x1="35.9" y1="504.9" x2="37.800000000000004" y2="504.9" stroke="#111" stroke-width="0.75"/>
<line x1="96.0" y1="563.3" x2="96.0" y2="565.2" stroke="#111" stroke-width="0.75"/>
<line x1="35.9" y1="503.7" x2="37.800000000000004" y2="503.7" stroke="#111" stroke-width="0.75"/>
<line x1="97.2" y1="563.3" x2="97.2" y2="565.2" stroke="#111" stroke-width="0.75"/>
<line x1="35.9" y1="502.7" x2="37.800000000000004" y2="502.7" stroke="#111" stroke-width="0.75"/>
<line x1="98.2" y1="563.3" x2="98.2" y2="565.2" stroke="#111" stroke-width="0.75"/>
<line x1="35.9" y1="501.8" x2="37.800000000000004" y2="501.8" stroke="#111" stroke-width="0.75"/>
<line x1="99.1" y1="563.3" x2="99.1" y2="565.2" stroke="#111" stroke-width="0.75"/>
<line x1="35.9" y1="501.1" x2="37.800000000000004" y2="501.1" stroke="#111" stroke-width="0.75"/>
<line x1="99.8" y1="563.3" x2="99.8" y2="565.2" stroke="#111" stroke-width="0.75"/>
<line x1="34.9" y1="500.4" x2="37.800000000000004" y2="500.4" stroke="#111" stroke-width="0.75"/>
<line x1="100.5" y1="563.3" x2="100.5" y2="566.2" stroke="#111" stroke-width="0.75"/>
<rect x="35.70" y="546.00" width="2.40" height="7.00" fill="#111"/>
<rect x="42.60" y="563.30" width="8.50" height="3.20" fill="#111"/>
<rect x="296.30" y="423.80" width="65.50" height="66.20" fill="#fff" stroke="#3a3a3a" stroke-width="1.2" rx="1"/>
<ellipse cx="327.5" cy="455.5" rx="21.4" ry="11.6" fill="url(#halo)" transform="rotate(-22 327.5 455.5)"/>
<rect x="324.8" y="454.2" width="1" height="1" fill="#3b1550" opacity="0.48"/>
<rect x="329.0" y="457.9" width="1" height="1" fill="#6a2060" opacity="0.63"/>
<rect x="310.7" y="463.5" width="1" height="1" fill="#30123b" opacity="0.60"/>
<rect x="317.6" y="459.6" width="1" height="1" fill="#30123b" opacity="0.35"/>
<rect x="330.5" y="449.0" width="1" height="1" fill="#40308a" opacity="0.60"/>
<rect x="327.0" y="461.7" width="1" height="1" fill="#6a2060" opacity="0.56"/>
<rect x="330.4" y="453.8" width="1" height="1" fill="#30123b" opacity="0.53"/>
<rect x="326.2" y="455.1" width="1" height="1" fill="#3b1550" opacity="0.69"/>
<rect x="333.3" y="451.1" width="1" height="1" fill="#3b1550" opacity="0.61"/>
<rect x="311.0" y="463.3" width="1" height="1" fill="#3b1550" opacity="0.46"/>
<rect x="324.4" y="458.2" width="1" height="1" fill="#3b1550" opacity="0.78"/>
<rect x="323.1" y="462.0" width="1" height="1" fill="#40308a" opacity="0.63"/>
<rect x="332.2" y="451.2" width="1" height="1" fill="#2c1a6b" opacity="0.56"/>
<rect x="312.3" y="458.2" width="1" height="1" fill="#2c1a6b" opacity="0.53"/>
<rect x="320.4" y="458.6" width="1" height="1" fill="#2c1a6b" opacity="0.79"/>
<rect x="325.6" y="459.4" width="1" height="1" fill="#6a2060" opacity="0.75"/>
<rect x="325.6" y="460.5" width="1" height="1" fill="#2c1a6b" opacity="0.41"/>
<rect x="330.7" y="453.8" width="1" height="1" fill="#3b1550" opacity="0.55"/>
<rect x="319.2" y="457.0" width="1" height="1" fill="#40308a" opacity="0.37"/>
<rect x="327.4" y="456.1" width="1" height="1" fill="#4b1a5a" opacity="0.76"/>
<rect x="314.6" y="462.2" width="1" height="1" fill="#3b1550" opacity="0.74"/>
<rect x="335.3" y="448.2" width="1" height="1" fill="#40308a" opacity="0.42"/>
<rect x="319.3" y="451.3" width="1" height="1" fill="#30123b" opacity="0.39"/>
<rect x="339.1" y="452.7" width="1" height="1" fill="#30123b" opacity="0.73"/>
<rect x="332.3" y="455.7" width="1" height="1" fill="#3b1550" opacity="0.56"/>
<rect x="345.0" y="456.0" width="1" height="1" fill="#3b1550" opacity="0.53"/>
<rect x="330.6" y="445.5" width="1" height="1" fill="#40308a" opacity="0.71"/>
<rect x="329.9" y="451.8" width="1" height="1" fill="#3b1550" opacity="0.51"/>
<rect x="318.3" y="462.6" width="1" height="1" fill="#3b1550" opacity="0.60"/>
<rect x="312.3" y="460.2" width="1" height="1" fill="#6a2060" opacity="0.64"/>
<rect x="334.0" y="449.9" width="1" height="1" fill="#3b1550" opacity="0.69"/>
<rect x="303.3" y="455.6" width="1" height="1" fill="#30123b" opacity="0.84"/>
<rect x="319.7" y="459.5" width="1" height="1" fill="#3b1550" opacity="0.39"/>
<rect x="311.6" y="464.0" width="1" height="1" fill="#30123b" opacity="0.36"/>
<rect x="339.7" y="450.8" width="1" height="1" fill="#3b1550" opacity="0.84"/>
<rect x="330.0" y="451.5" width="1" height="1" fill="#3b1550" opacity="0.41"/>
<rect x="340.4" y="451.3" width="1" height="1" fill="#4b1a5a" opacity="0.58"/>
<rect x="322.5" y="445.0" width="1" height="1" fill="#2c1a6b" opacity="0.74"/>
<rect x="320.3" y="447.8" width="1" height="1" fill="#30123b" opacity="0.73"/>
<rect x="327.2" y="462.5" width="1" height="1" fill="#6a2060" opacity="0.58"/>
<rect x="332.4" y="451.8" width="1" height="1" fill="#3b1550" opacity="0.71"/>
<rect x="328.9" y="455.0" width="1" height="1" fill="#30123b" opacity="0.69"/>
<rect x="320.4" y="454.6" width="1" height="1" fill="#2c1a6b" opacity="0.71"/>
<rect x="338.8" y="460.5" width="1" height="1" fill="#6a2060" opacity="0.65"/>
<rect x="324.0" y="469.3" width="1" height="1" fill="#30123b" opacity="0.57"/>
<rect x="324.6" y="453.9" width="1" height="1" fill="#3b1550" opacity="0.53"/>
<rect x="318.5" y="453.0" width="1" height="1" fill="#6a2060" opacity="0.59"/>
<rect x="327.0" y="449.7" width="1" height="1" fill="#2c1a6b" opacity="0.74"/>
<rect x="320.8" y="456.3" width="1" height="1" fill="#3b1550" opacity="0.66"/>
<rect x="316.3" y="451.9" width="1" height="1" fill="#40308a" opacity="0.52"/>
<rect x="307.0" y="454.4" width="1" height="1" fill="#4b1a5a" opacity="0.65"/>
<rect x="326.4" y="461.4" width="1" height="1" fill="#4b1a5a" opacity="0.54"/>
<rect x="320.8" y="451.3" width="1" height="1" fill="#4b1a5a" opacity="0.75"/>
<rect x="327.5" y="455.8" width="1" height="1" fill="#2c1a6b" opacity="0.48"/>
<rect x="341.0" y="460.5" width="1" height="1" fill="#3b1550" opacity="0.49"/>
<rect x="341.2" y="459.0" width="1" height="1" fill="#40308a" opacity="0.42"/>
<rect x="341.0" y="448.5" width="1" height="1" fill="#40308a" opacity="0.69"/>
<rect x="332.9" y="450.7" width="1" height="1" fill="#3b1550" opacity="0.62"/>
<rect x="319.9" y="459.1" width="1" height="1" fill="#30123b" opacity="0.82"/>
<rect x="331.2" y="461.5" width="1" height="1" fill="#30123b" opacity="0.55"/>
<rect x="318.6" y="446.9" width="1" height="1" fill="#40308a" opacity="0.73"/>
<rect x="327.7" y="449.5" width="1" height="1" fill="#3b1550" opacity="0.62"/>
<rect x="326.3" y="457.6" width="1" height="1" fill="#6a2060" opacity="0.64"/>
<rect x="338.3" y="444.2" width="1" height="1" fill="#40308a" opacity="0.51"/>
<rect x="322.1" y="457.5" width="1" height="1" fill="#4b1a5a" opacity="0.45"/>
<rect x="335.4" y="460.1" width="1" height="1" fill="#2c1a6b" opacity="0.64"/>
<rect x="321.4" y="465.5" width="1" height="1" fill="#4b1a5a" opacity="0.47"/>
<rect x="334.7" y="449.6" width="1" height="1" fill="#3b1550" opacity="0.54"/>
<rect x="324.5" y="457.2" width="1" height="1" fill="#2c1a6b" opacity="0.65"/>
<rect x="324.0" y="462.5" width="1" height="1" fill="#3b1550" opacity="0.40"/>
<rect x="335.8" y="462.9" width="1" height="1" fill="#40308a" opacity="0.59"/>
<rect x="321.2" y="456.3" width="1" height="1" fill="#2c1a6b" opacity="0.56"/>
<rect x="339.2" y="447.6" width="1" height="1" fill="#40308a" opacity="0.83"/>
<rect x="328.0" y="456.8" width="1" height="1" fill="#4b1a5a" opacity="0.85"/>
<rect x="326.5" y="456.8" width="1" height="1" fill="#3b1550" opacity="0.63"/>
<rect x="332.0" y="449.2" width="1" height="1" fill="#3b1550" opacity="0.78"/>
<rect x="312.7" y="451.8" width="1" height="1" fill="#30123b" opacity="0.83"/>
<rect x="329.5" y="461.8" width="1" height="1" fill="#30123b" opacity="0.39"/>
<rect x="334.7" y="449.4" width="1" height="1" fill="#4b1a5a" opacity="0.57"/>
<rect x="342.8" y="461.5" width="1" height="1" fill="#30123b" opacity="0.46"/>
<rect x="333.8" y="454.0" width="1" height="1" fill="#2c1a6b" opacity="0.38"/>
<rect x="325.6" y="455.9" width="1" height="1" fill="#3b1550" opacity="0.48"/>
<rect x="314.2" y="460.1" width="1" height="1" fill="#6a2060" opacity="0.38"/>
<rect x="338.2" y="458.5" width="1" height="1" fill="#4b1a5a" opacity="0.69"/>
<rect x="326.7" y="462.9" width="1" height="1" fill="#30123b" opacity="0.40"/>
<rect x="326.1" y="459.9" width="1" height="1" fill="#3b1550" opacity="0.54"/>
<rect x="322.7" y="461.6" width="1" height="1" fill="#4b1a5a" opacity="0.81"/>
<rect x="333.1" y="449.3" width="1" height="1" fill="#4b1a5a" opacity="0.75"/>
<rect x="338.8" y="459.7" width="1" height="1" fill="#3b1550" opacity="0.82"/>
<rect x="335.7" y="443.6" width="1" height="1" fill="#4b1a5a" opacity="0.74"/>
<rect x="343.9" y="445.6" width="1" height="1" fill="#6a2060" opacity="0.77"/>
<rect x="319.9" y="454.2" width="1" height="1" fill="#2c1a6b" opacity="0.51"/>
<rect x="328.8" y="457.7" width="1" height="1" fill="#2c1a6b" opacity="0.42"/>
<rect x="328.6" y="456.9" width="1" height="1" fill="#30123b" opacity="0.58"/>
<rect x="332.7" y="449.6" width="1" height="1" fill="#4b1a5a" opacity="0.48"/>
<rect x="324.2" y="458.6" width="1" height="1" fill="#2c1a6b" opacity="0.64"/>
<rect x="326.7" y="465.4" width="1" height="1" fill="#2c1a6b" opacity="0.60"/>
<rect x="324.2" y="467.8" width="1" height="1" fill="#3b1550" opacity="0.43"/>
<rect x="316.1" y="459.5" width="1" height="1" fill="#30123b" opacity="0.81"/>
<rect x="312.1" y="457.8" width="1" height="1" fill="#3b1550" opacity="0.48"/>
<rect x="331.5" y="458.9" width="1" height="1" fill="#2c1a6b" opacity="0.85"/>
<rect x="330.3" y="453.2" width="1" height="1" fill="#2c1a6b" opacity="0.56"/>
<rect x="338.5" y="460.0" width="1" height="1" fill="#2c1a6b" opacity="0.42"/>
<rect x="320.4" y="453.7" width="1" height="1" fill="#40308a" opacity="0.52"/>
<rect x="327.9" y="455.6" width="1" height="1" fill="#40308a" opacity="0.49"/>
<rect x="326.5" y="457.1" width="1" height="1" fill="#6a2060" opacity="0.46"/>
<rect x="323.1" y="456.0" width="1" height="1" fill="#4b1a5a" opacity="0.61"/>
<rect x="329.3" y="458.2" width="1" height="1" fill="#40308a" opacity="0.39"/>
<rect x="338.2" y="455.2" width="1" height="1" fill="#6a2060" opacity="0.73"/>
<rect x="330.4" y="457.0" width="1" height="1" fill="#30123b" opacity="0.70"/>
<rect x="329.1" y="448.1" width="1" height="1" fill="#4b1a5a" opacity="0.36"/>
<rect x="321.9" y="451.5" width="1" height="1" fill="#30123b" opacity="0.81"/>
<rect x="320.0" y="457.9" width="1" height="1" fill="#2c1a6b" opacity="0.77"/>
<rect x="331.9" y="448.8" width="1" height="1" fill="#3b1550" opacity="0.55"/>
<rect x="326.8" y="452.8" width="1" height="1" fill="#30123b" opacity="0.48"/>
<rect x="336.7" y="461.4" width="1" height="1" fill="#2c1a6b" opacity="0.37"/>
<rect x="322.0" y="450.8" width="1" height="1" fill="#3b1550" opacity="0.53"/>
<rect x="344.5" y="442.6" width="1" height="1" fill="#3b1550" opacity="0.41"/>
<rect x="320.8" y="448.2" width="1" height="1" fill="#2c1a6b" opacity="0.74"/>
<rect x="332.7" y="448.0" width="1" height="1" fill="#3b1550" opacity="0.50"/>
<rect x="339.5" y="456.3" width="1" height="1" fill="#6a2060" opacity="0.61"/>
<rect x="317.3" y="458.3" width="1" height="1" fill="#3b1550" opacity="0.47"/>
<rect x="338.3" y="455.2" width="1" height="1" fill="#4b1a5a" opacity="0.40"/>
<rect x="331.0" y="464.3" width="1" height="1" fill="#3b1550" opacity="0.36"/>
<rect x="337.8" y="447.3" width="1" height="1" fill="#2c1a6b" opacity="0.36"/>
<rect x="317.6" y="455.3" width="1" height="1" fill="#40308a" opacity="0.47"/>
<rect x="321.2" y="459.8" width="1" height="1" fill="#3b1550" opacity="0.71"/>
<rect x="331.7" y="454.6" width="1" height="1" fill="#6a2060" opacity="0.64"/>
<rect x="326.8" y="453.1" width="1" height="1" fill="#3b1550" opacity="0.55"/>
<rect x="336.4" y="457.5" width="1" height="1" fill="#4b1a5a" opacity="0.42"/>
<rect x="314.3" y="456.8" width="1" height="1" fill="#4b1a5a" opacity="0.82"/>
<rect x="339.0" y="451.8" width="1" height="1" fill="#30123b" opacity="0.56"/>
<rect x="330.7" y="448.5" width="1" height="1" fill="#6a2060" opacity="0.84"/>
<rect x="335.2" y="454.1" width="1" height="1" fill="#6a2060" opacity="0.47"/>
<rect x="324.9" y="461.6" width="1" height="1" fill="#40308a" opacity="0.75"/>
<rect x="338.1" y="445.9" width="1" height="1" fill="#40308a" opacity="0.38"/>
<rect x="307.1" y="462.2" width="1" height="1" fill="#2c1a6b" opacity="0.47"/>
<rect x="318.8" y="462.7" width="1" height="1" fill="#2c1a6b" opacity="0.40"/>
<rect x="331.8" y="458.3" width="1" height="1" fill="#4b1a5a" opacity="0.60"/>
<rect x="332.0" y="454.1" width="1" height="1" fill="#6a2060" opacity="0.74"/>
<rect x="336.8" y="448.7" width="1" height="1" fill="#3b1550" opacity="0.37"/>
<rect x="322.4" y="454.2" width="1" height="1" fill="#30123b" opacity="0.66"/>
<rect x="315.0" y="453.3" width="1" height="1" fill="#3b1550" opacity="0.66"/>
<rect x="329.8" y="461.3" width="1" height="1" fill="#6a2060" opacity="0.47"/>
<rect x="331.5" y="454.5" width="1" height="1" fill="#2c1a6b" opacity="0.67"/>
<rect x="337.0" y="456.8" width="1" height="1" fill="#40308a" opacity="0.80"/>
<rect x="338.0" y="455.0" width="1" height="1" fill="#4b1a5a" opacity="0.57"/>
<rect x="310.7" y="461.4" width="1" height="1" fill="#6a2060" opacity="0.64"/>
<rect x="328.7" y="464.0" width="1" height="1" fill="#30123b" opacity="0.62"/>
<rect x="331.1" y="447.6" width="1" height="1" fill="#40308a" opacity="0.46"/>
<rect x="321.5" y="462.5" width="1" height="1" fill="#2c1a6b" opacity="0.58"/>
<rect x="316.2" y="457.8" width="1" height="1" fill="#6a2060" opacity="0.76"/>
<rect x="334.9" y="453.5" width="1" height="1" fill="#4b1a5a" opacity="0.61"/>
<rect x="321.4" y="462.9" width="1" height="1" fill="#3b1550" opacity="0.81"/>
<rect x="341.8" y="461.4" width="1" height="1" fill="#2c1a6b" opacity="0.63"/>
<rect x="321.1" y="458.3" width="1" height="1" fill="#4b1a5a" opacity="0.50"/>
<rect x="327.0" y="452.5" width="1" height="1" fill="#3b1550" opacity="0.65"/>
<rect x="323.1" y="463.9" width="1" height="1" fill="#40308a" opacity="0.54"/>
<rect x="316.6" y="463.2" width="1" height="1" fill="#3b1550" opacity="0.61"/>
<rect x="339.2" y="450.2" width="1" height="1" fill="#4b1a5a" opacity="0.56"/>
<rect x="324.4" y="454.1" width="1" height="1" fill="#4b1a5a" opacity="0.66"/>
<rect x="333.3" y="444.8" width="1" height="1" fill="#40308a" opacity="0.40"/>
<rect x="335.2" y="442.5" width="1" height="1" fill="#6a2060" opacity="0.48"/>
<rect x="317.8" y="453.7" width="1" height="1" fill="#30123b" opacity="0.41"/>
<rect x="327.9" y="455.0" width="1" height="1" fill="#40308a" opacity="0.64"/>
<rect x="307.2" y="463.9" width="1" height="1" fill="#40308a" opacity="0.42"/>
<rect x="330.0" y="450.8" width="1" height="1" fill="#40308a" opacity="0.65"/>
<rect x="322.6" y="461.7" width="1" height="1" fill="#6a2060" opacity="0.49"/>
<rect x="324.5" y="460.9" width="1" height="1" fill="#40308a" opacity="0.63"/>
<rect x="323.4" y="460.4" width="1" height="1" fill="#30123b" opacity="0.77"/>
<ellipse cx="327.5" cy="455.5" rx="16.5" ry="8.3" fill="url(#body)" transform="rotate(-22 327.5 455.5)"/>
<ellipse cx="327.5" cy="455.5" rx="9.9" ry="5.1" fill="url(#blob)" transform="rotate(-22 327.5 455.5)"/>
<rect x="327.3" y="455.0" width="1" height="1" fill="#2a0c36" opacity="0.35"/>
<rect x="329.4" y="458.0" width="1" height="1" fill="#7a1c4a" opacity="0.35"/>
<rect x="329.4" y="455.6" width="1" height="1" fill="#2a0c36" opacity="0.35"/>
<rect x="333.8" y="451.1" width="1" height="1" fill="#3a1046" opacity="0.35"/>
<rect x="336.5" y="456.8" width="1" height="1" fill="#2a0c36" opacity="0.35"/>
<rect x="339.1" y="455.0" width="1" height="1" fill="#2a0c36" opacity="0.35"/>
<rect x="316.4" y="457.4" width="1" height="1" fill="#7a1c4a" opacity="0.35"/>
<rect x="323.3" y="457.6" width="1" height="1" fill="#7a1c4a" opacity="0.35"/>
<rect x="330.2" y="459.8" width="1" height="1" fill="#3a1046" opacity="0.35"/>
<rect x="335.3" y="454.8" width="1" height="1" fill="#7a1c4a" opacity="0.35"/>
<rect x="324.6" y="455.1" width="1" height="1" fill="#3a1046" opacity="0.35"/>
<rect x="331.1" y="453.5" width="1" height="1" fill="#2a0c36" opacity="0.35"/>
<rect x="331.4" y="454.2" width="1" height="1" fill="#2a0c36" opacity="0.35"/>
<rect x="325.6" y="456.3" width="1" height="1" fill="#3a1046" opacity="0.35"/>
<rect x="329.1" y="455.7" width="1" height="1" fill="#2a0c36" opacity="0.35"/>
<rect x="337.4" y="451.4" width="1" height="1" fill="#7a1c4a" opacity="0.35"/>
<rect x="334.7" y="456.9" width="1" height="1" fill="#3a1046" opacity="0.35"/>
<rect x="324.3" y="457.1" width="1" height="1" fill="#2a0c36" opacity="0.35"/>
<rect x="319.8" y="456.7" width="1" height="1" fill="#2a0c36" opacity="0.35"/>
<rect x="334.5" y="452.8" width="1" height="1" fill="#2a0c36" opacity="0.35"/>
<rect x="330.1" y="452.3" width="1" height="1" fill="#7a1c4a" opacity="0.35"/>
<rect x="336.2" y="457.3" width="1" height="1" fill="#7a1c4a" opacity="0.35"/>
<rect x="330.4" y="454.6" width="1" height="1" fill="#3a1046" opacity="0.35"/>
<rect x="322.7" y="461.7" width="1" height="1" fill="#7a1c4a" opacity="0.35"/>
<rect x="321.2" y="459.4" width="1" height="1" fill="#3a1046" opacity="0.35"/>
<rect x="319.3" y="459.5" width="1" height="1" fill="#3a1046" opacity="0.35"/>
<rect x="328.7" y="450.1" width="1" height="1" fill="#7a1c4a" opacity="0.35"/>
<rect x="315.2" y="455.1" width="1" height="1" fill="#3a1046" opacity="0.35"/>
<rect x="329.7" y="449.3" width="1" height="1" fill="#7a1c4a" opacity="0.35"/>
<rect x="323.8" y="452.7" width="1" height="1" fill="#2a0c36" opacity="0.35"/>
<rect x="330.0" y="451.2" width="1" height="1" fill="#7a1c4a" opacity="0.35"/>
<rect x="333.5" y="453.8" width="1" height="1" fill="#3a1046" opacity="0.35"/>
<rect x="336.0" y="452.2" width="1" height="1" fill="#2a0c36" opacity="0.35"/>
<rect x="328.8" y="454.0" width="1" height="1" fill="#2a0c36" opacity="0.35"/>
<rect x="320.0" y="458.7" width="1" height="1" fill="#3a1046" opacity="0.35"/>
<rect x="317.6" y="455.2" width="1" height="1" fill="#2a0c36" opacity="0.35"/>
<rect x="337.1" y="451.5" width="1" height="1" fill="#7a1c4a" opacity="0.35"/>
<rect x="331.1" y="457.4" width="1" height="1" fill="#2a0c36" opacity="0.35"/>
<rect x="331.4" y="455.9" width="1" height="1" fill="#3a1046" opacity="0.35"/>
<rect x="324.5" y="459.0" width="1" height="1" fill="#7a1c4a" opacity="0.35"/>
<rect x="320.9" y="453.1" width="1" height="1" fill="#3a1046" opacity="0.35"/>
<rect x="320.4" y="462.7" width="1" height="1" fill="#3a1046" opacity="0.35"/>
<text x="300.1" y="434.5" font-size="9.9" text-anchor="start" fill="#231f20" stroke="#231f20" stroke-width="0.16">Pre-ino</text>
<rect x="296.40" y="494.50" width="66.30" height="66.00" fill="#fff" stroke="#3a3a3a" stroke-width="1.2" rx="1"/>
<ellipse cx="307.7" cy="524" rx="6.9" ry="10.9" fill="url(#halo)" transform="rotate(0 307.7 524)"/>
<rect x="309.4" y="525.2" width="1" height="1" fill="#40308a" opacity="0.54"/>
<rect x="313.2" y="527.4" width="1" height="1" fill="#40308a" opacity="0.73"/>
<rect x="308.6" y="524.4" width="1" height="1" fill="#4b1a5a" opacity="0.47"/>
<rect x="313.8" y="527.0" width="1" height="1" fill="#4b1a5a" opacity="0.51"/>
<rect x="311.8" y="518.7" width="1" height="1" fill="#2c1a6b" opacity="0.56"/>
<rect x="307.6" y="534.1" width="1" height="1" fill="#3b1550" opacity="0.47"/>
<rect x="304.3" y="528.9" width="1" height="1" fill="#4b1a5a" opacity="0.56"/>
<rect x="304.2" y="528.5" width="1" height="1" fill="#3b1550" opacity="0.75"/>
<rect x="307.8" y="527.0" width="1" height="1" fill="#2c1a6b" opacity="0.54"/>
<rect x="313.4" y="524.5" width="1" height="1" fill="#6a2060" opacity="0.63"/>
<rect x="310.3" y="527.9" width="1" height="1" fill="#6a2060" opacity="0.52"/>
<rect x="303.6" y="514.0" width="1" height="1" fill="#6a2060" opacity="0.76"/>
<rect x="306.5" y="526.9" width="1" height="1" fill="#4b1a5a" opacity="0.58"/>
<rect x="306.1" y="528.3" width="1" height="1" fill="#2c1a6b" opacity="0.68"/>
<rect x="306.8" y="526.4" width="1" height="1" fill="#30123b" opacity="0.41"/>
<rect x="308.8" y="529.7" width="1" height="1" fill="#4b1a5a" opacity="0.63"/>
<rect x="302.9" y="525.8" width="1" height="1" fill="#4b1a5a" opacity="0.43"/>
<rect x="305.0" y="530.2" width="1" height="1" fill="#6a2060" opacity="0.66"/>
<rect x="305.7" y="522.0" width="1" height="1" fill="#6a2060" opacity="0.60"/>
<rect x="308.1" y="529.3" width="1" height="1" fill="#4b1a5a" opacity="0.82"/>
<rect x="311.4" y="523.9" width="1" height="1" fill="#6a2060" opacity="0.64"/>
<rect x="306.3" y="526.7" width="1" height="1" fill="#40308a" opacity="0.61"/>
<rect x="310.9" y="529.7" width="1" height="1" fill="#30123b" opacity="0.61"/>
<rect x="305.6" y="523.0" width="1" height="1" fill="#6a2060" opacity="0.36"/>
<rect x="307.4" y="521.3" width="1" height="1" fill="#3b1550" opacity="0.54"/>
<rect x="309.2" y="525.6" width="1" height="1" fill="#4b1a5a" opacity="0.51"/>
<rect x="307.0" y="522.0" width="1" height="1" fill="#40308a" opacity="0.81"/>
<rect x="309.3" y="516.3" width="1" height="1" fill="#4b1a5a" opacity="0.38"/>
<rect x="307.0" y="527.2" width="1" height="1" fill="#4b1a5a" opacity="0.76"/>
<rect x="305.6" y="526.7" width="1" height="1" fill="#6a2060" opacity="0.74"/>
<rect x="311.8" y="517.5" width="1" height="1" fill="#4b1a5a" opacity="0.82"/>
<rect x="308.9" y="528.1" width="1" height="1" fill="#30123b" opacity="0.70"/>
<rect x="308.2" y="523.3" width="1" height="1" fill="#30123b" opacity="0.70"/>
<rect x="307.8" y="533.4" width="1" height="1" fill="#2c1a6b" opacity="0.80"/>
<rect x="309.6" y="526.3" width="1" height="1" fill="#2c1a6b" opacity="0.81"/>
<rect x="307.3" y="516.4" width="1" height="1" fill="#3b1550" opacity="0.55"/>
<rect x="305.4" y="520.8" width="1" height="1" fill="#2c1a6b" opacity="0.43"/>
<rect x="307.4" y="517.9" width="1" height="1" fill="#30123b" opacity="0.67"/>
<rect x="310.0" y="532.4" width="1" height="1" fill="#40308a" opacity="0.60"/>
<rect x="301.5" y="522.6" width="1" height="1" fill="#30123b" opacity="0.69"/>
<rect x="307.6" y="524.2" width="1" height="1" fill="#30123b" opacity="0.49"/>
<rect x="312.9" y="526.5" width="1" height="1" fill="#40308a" opacity="0.70"/>
<rect x="311.8" y="522.8" width="1" height="1" fill="#3b1550" opacity="0.75"/>
<rect x="309.2" y="534.4" width="1" height="1" fill="#30123b" opacity="0.81"/>
<rect x="303.8" y="528.0" width="1" height="1" fill="#30123b" opacity="0.66"/>
<rect x="308.3" y="529.8" width="1" height="1" fill="#2c1a6b" opacity="0.82"/>
<rect x="302.1" y="529.1" width="1" height="1" fill="#30123b" opacity="0.60"/>
<rect x="305.7" y="515.4" width="1" height="1" fill="#30123b" opacity="0.58"/>
<rect x="311.7" y="526.5" width="1" height="1" fill="#6a2060" opacity="0.69"/>
<rect x="310.4" y="517.1" width="1" height="1" fill="#6a2060" opacity="0.73"/>
<rect x="311.8" y="526.0" width="1" height="1" fill="#40308a" opacity="0.48"/>
<rect x="300.7" y="520.3" width="1" height="1" fill="#30123b" opacity="0.47"/>
<rect x="307.2" y="536.4" width="1" height="1" fill="#4b1a5a" opacity="0.53"/>
<rect x="306.1" y="525.7" width="1" height="1" fill="#2c1a6b" opacity="0.42"/>
<rect x="306.5" y="518.9" width="1" height="1" fill="#6a2060" opacity="0.47"/>
<rect x="307.9" y="529.8" width="1" height="1" fill="#6a2060" opacity="0.42"/>
<rect x="305.0" y="518.2" width="1" height="1" fill="#4b1a5a" opacity="0.79"/>
<rect x="309.9" y="528.8" width="1" height="1" fill="#2c1a6b" opacity="0.66"/>
<rect x="309.8" y="527.4" width="1" height="1" fill="#4b1a5a" opacity="0.69"/>
<rect x="312.0" y="535.1" width="1" height="1" fill="#6a2060" opacity="0.77"/>
<rect x="320" y="522" width="1" height="1" fill="#a898bd" opacity="0.7"/>
<rect x="325" y="524" width="1" height="1" fill="#a898bd" opacity="0.7"/>
<rect x="331" y="523" width="1" height="1" fill="#a898bd" opacity="0.7"/>
<rect x="338" y="525" width="1" height="1" fill="#a898bd" opacity="0.7"/>
<rect x="322" y="528" width="1" height="1" fill="#a898bd" opacity="0.7"/>
<ellipse cx="307.7" cy="524" rx="5.3" ry="7.8" fill="url(#body)" transform="rotate(0 307.7 524)"/>
<ellipse cx="307.7" cy="524.0" rx="2.9" ry="4.7" fill="url(#blob)" transform="rotate(0 307.7 524.0)"/>
<rect x="304.8" y="522.0" width="1" height="1" fill="#7a1c4a" opacity="0.35"/>
<rect x="307.6" y="519.7" width="1" height="1" fill="#7a1c4a" opacity="0.35"/>
<rect x="306.2" y="520.4" width="1" height="1" fill="#7a1c4a" opacity="0.35"/>
<rect x="307.3" y="520.4" width="1" height="1" fill="#7a1c4a" opacity="0.35"/>
<rect x="307.3" y="524.6" width="1" height="1" fill="#7a1c4a" opacity="0.35"/>
<rect x="305.2" y="520.0" width="1" height="1" fill="#2a0c36" opacity="0.35"/>
<rect x="307.5" y="528.5" width="1" height="1" fill="#7a1c4a" opacity="0.35"/>
<rect x="304.6" y="526.0" width="1" height="1" fill="#3a1046" opacity="0.35"/>
<rect x="308.2" y="520.3" width="1" height="1" fill="#7a1c4a" opacity="0.35"/>
<rect x="311.1" y="523.9" width="1" height="1" fill="#3a1046" opacity="0.35"/>
<rect x="306.4" y="522.7" width="1" height="1" fill="#2a0c36" opacity="0.35"/>
<rect x="308.8" y="525.2" width="1" height="1" fill="#3a1046" opacity="0.35"/>
<rect x="308.8" y="521.7" width="1" height="1" fill="#2a0c36" opacity="0.35"/>
<rect x="304.6" y="526.3" width="1" height="1" fill="#2a0c36" opacity="0.35"/>
<rect x="309.7" y="527.2" width="1" height="1" fill="#7a1c4a" opacity="0.35"/>
<text x="300.2" y="505.2" font-size="9.9" text-anchor="start" fill="#231f20" stroke="#231f20" stroke-width="0.16">Post-ino</text>
<rect x="297.20" y="475.00" width="1.30" height="5.50" fill="#222"/>
<rect x="300.00" y="488.40" width="10.00" height="1.20" fill="#222"/>
<rect x="297.20" y="452.00" width="1.00" height="3.00" fill="#222"/>
<rect x="297.30" y="542.00" width="1.30" height="6.50" fill="#222"/>
<rect x="299.60" y="559.40" width="10.50" height="1.20" fill="#222"/>
<rect x="297.30" y="515.00" width="1.00" height="4.00" fill="#222"/>
<line x1="26.5" y1="574.4499999999999" x2="26.5" y2="541.7" stroke="#111" stroke-width="1.3"/>
<line x1="26.5" y1="573.8" x2="68.7" y2="573.8" stroke="#111" stroke-width="1.3"/>
<polygon points="26.5,536.7 22.9,545.7 26.5,543.1 30.1,545.7" fill="#111"/>
<polygon points="73.7,573.8 64.7,570.4 67.3,573.8 64.7,577.1999999999999" fill="#111"/>
<line x1="286.5" y1="570.4499999999999" x2="286.5" y2="537" stroke="#111" stroke-width="1.3"/>
<line x1="286.5" y1="569.8" x2="328.5" y2="569.8" stroke="#111" stroke-width="1.3"/>
<polygon points="286.5,532 282.9,541 286.5,538.4 290.1,541" fill="#111"/>
<polygon points="333.5,569.8 324.5,566.4 327.1,569.8 324.5,573.1999999999999" fill="#111"/>
<text x="30" y="518" font-size="9.8" text-anchor="middle" fill="#231f20" stroke="#231f20" stroke-width="0.16" transform="rotate(-90 30 518)">CD19</text>
<text x="290" y="513.5" font-size="9.8" text-anchor="middle" fill="#231f20" stroke="#231f20" stroke-width="0.16" transform="rotate(-90 290 513.5)">CD19</text>
<text x="79.8" y="577.2" font-size="10" text-anchor="start" fill="#231f20" stroke="#231f20" stroke-width="0.16">CD22</text>
<text x="339.8" y="573" font-size="10" text-anchor="start" fill="#231f20" stroke="#231f20" stroke-width="0.16">CD22</text>
<text x="210.2" y="442.6" font-size="9.8" text-anchor="middle" fill="#231f20" stroke="#231f20" stroke-width="0.16">CD22 site density</text>
<line x1="177" y1="454.4" x2="177" y2="555.8000000000001" stroke="#111" stroke-width="1.4"/>
<line x1="176.4" y1="555.2" x2="244.4" y2="555.2" stroke="#111" stroke-width="1.4"/>
<line x1="172.5" y1="555.2" x2="177" y2="555.2" stroke="#111" stroke-width="1.2"/>
<text x="170.2" y="558.7" font-size="10" text-anchor="end" fill="#231f20" stroke="#231f20" stroke-width="0.16">0</text>
<line x1="172.5" y1="521.8000000000001" x2="177" y2="521.8000000000001" stroke="#111" stroke-width="1.2"/>
<text x="170.2" y="525.3000000000001" font-size="10" text-anchor="end" fill="#231f20" stroke="#231f20" stroke-width="0.16">1,000</text>
<line x1="172.5" y1="488.40000000000003" x2="177" y2="488.40000000000003" stroke="#111" stroke-width="1.2"/>
<text x="170.2" y="491.90000000000003" font-size="10" text-anchor="end" fill="#231f20" stroke="#231f20" stroke-width="0.16">2,000</text>
<line x1="172.5" y1="455.0" x2="177" y2="455.0" stroke="#111" stroke-width="1.2"/>
<text x="170.2" y="458.5" font-size="10" text-anchor="end" fill="#231f20" stroke="#231f20" stroke-width="0.16">3,000</text>
<rect x="187.30" y="500.00" width="18.10" height="55.20" fill="#231f20"/>
<rect x="216.90" y="534.90" width="16.80" height="20.30" fill="#a7a9ac" stroke="#231f20" stroke-width="1"/>
<line x1="196.2" y1="555.2" x2="196.2" y2="559.4000000000001" stroke="#111" stroke-width="1.2"/>
<text x="199.0" y="565.0" font-size="9.9" text-anchor="end" fill="#231f20" stroke="#231f20" stroke-width="0.16" transform="rotate(-45 199.0 565.0)">Pre-ino</text>
<line x1="225.3" y1="555.2" x2="225.3" y2="559.4000000000001" stroke="#111" stroke-width="1.2"/>
<text x="228.10000000000002" y="565.0" font-size="9.9" text-anchor="end" fill="#231f20" stroke="#231f20" stroke-width="0.16" transform="rotate(-45 228.10000000000002 565.0)">Post-ino</text>
<text x="142.2" y="505.1" font-size="11" text-anchor="middle" fill="#231f20" stroke="#231f20" stroke-width="0.16" transform="rotate(-90 142.2 505.1)">CD22 molecules/cell</text>
<text x="474.5" y="442.6" font-size="9.8" text-anchor="middle" fill="#231f20" stroke="#231f20" stroke-width="0.16">CD22 site density</text>
<line x1="441.4" y1="454.9" x2="441.4" y2="553.9" stroke="#111" stroke-width="1.4"/>
<line x1="440.79999999999995" y1="553.3" x2="509.8" y2="553.3" stroke="#111" stroke-width="1.4"/>
<line x1="436.9" y1="553.3" x2="441.4" y2="553.3" stroke="#111" stroke-width="1.2"/>
<text x="434.59999999999997" y="556.8" font-size="10" text-anchor="end" fill="#231f20" stroke="#231f20" stroke-width="0.16">0</text>
<line x1="436.9" y1="520.6999999999999" x2="441.4" y2="520.6999999999999" stroke="#111" stroke-width="1.2"/>
<text x="434.59999999999997" y="524.1999999999999" font-size="10" text-anchor="end" fill="#231f20" stroke="#231f20" stroke-width="0.16">1,000</text>
<line x1="436.9" y1="488.09999999999997" x2="441.4" y2="488.09999999999997" stroke="#111" stroke-width="1.2"/>
<text x="434.59999999999997" y="491.59999999999997" font-size="10" text-anchor="end" fill="#231f20" stroke="#231f20" stroke-width="0.16">2,000</text>
<line x1="436.9" y1="455.5" x2="441.4" y2="455.5" stroke="#111" stroke-width="1.2"/>
<text x="434.59999999999997" y="459.0" font-size="10" text-anchor="end" fill="#231f20" stroke="#231f20" stroke-width="0.16">3,000</text>
<rect x="451.40" y="473.90" width="18.80" height="79.40" fill="#231f20"/>
<rect x="480.00" y="551.40" width="18.50" height="1.90" fill="#231f20"/>
<line x1="460.8" y1="553.3" x2="460.8" y2="557.5" stroke="#111" stroke-width="1.2"/>
<text x="463.6" y="563.0999999999999" font-size="9.4" text-anchor="end" fill="#231f20" stroke="#231f20" stroke-width="0.16" transform="rotate(-45 463.6 563.0999999999999)">Pre-ino</text>
<line x1="489.6" y1="553.3" x2="489.6" y2="557.5" stroke="#111" stroke-width="1.2"/>
<text x="492.40000000000003" y="563.0999999999999" font-size="9.4" text-anchor="end" fill="#231f20" stroke="#231f20" stroke-width="0.16" transform="rotate(-45 492.40000000000003 563.0999999999999)">Post-ino</text>
<text x="404.3" y="504.4" font-size="9.8" text-anchor="middle" fill="#231f20" stroke="#231f20" stroke-width="0.16" transform="rotate(-90 404.3 504.4)">CD22 molecules/cell</text>
<text x="0.5" y="610.5" font-size="11.2" text-anchor="start" fill="#231f20" stroke="#231f20" stroke-width="0.4" font-weight="bold">D</text>
<text x="268.7" y="610.6" font-size="11.2" text-anchor="start" fill="#231f20" stroke="#231f20" stroke-width="0.4" font-weight="bold">G</text>
<rect x="41.60" y="614.80" width="102.40" height="68.00" fill="#f5f6fb" stroke="#222" stroke-width="1.3"/>
<rect x="47.00" y="621.80" width="7.10" height="15.00" fill="#8aa3d8"/>
<rect x="47.27" y="621.80" width="6.55" height="15.00" fill="#6f8fcd"/>
<rect x="54.10" y="621.80" width="7.10" height="15.00" fill="#8aa3d8"/>
<rect x="54.38" y="621.80" width="6.55" height="15.00" fill="#6f8fcd"/>
<rect x="61.20" y="621.80" width="7.10" height="15.00" fill="#8aa3d8"/>
<rect x="61.48" y="621.80" width="6.55" height="15.00" fill="#6f8fcd"/>
<rect x="68.30" y="621.80" width="7.10" height="15.00" fill="#8aa3d8"/>
<rect x="68.58" y="621.80" width="6.55" height="15.00" fill="#6f8fcd"/>
<rect x="75.40" y="621.80" width="7.10" height="15.00" fill="#8aa3d8"/>
<rect x="75.68" y="621.80" width="6.55" height="15.00" fill="#6f8fcd"/>
<rect x="82.50" y="621.80" width="7.10" height="15.00" fill="#8aa3d8"/>
<rect x="82.78" y="621.80" width="6.55" height="15.00" fill="#6f8fcd"/>
<rect x="89.60" y="631.60" width="7.10" height="5.20" fill="#8aa3d8"/>
<rect x="89.88" y="631.60" width="6.55" height="5.20" fill="#6f8fcd"/>
<rect x="96.70" y="631.60" width="7.10" height="5.20" fill="#8aa3d8"/>
<rect x="96.98" y="631.60" width="6.55" height="5.20" fill="#6f8fcd"/>
<rect x="103.80" y="631.60" width="7.10" height="5.20" fill="#8aa3d8"/>
<rect x="104.08" y="631.60" width="6.55" height="5.20" fill="#6f8fcd"/>
<rect x="110.90" y="631.60" width="7.10" height="5.20" fill="#8aa3d8"/>
<rect x="111.18" y="631.60" width="6.55" height="5.20" fill="#6f8fcd"/>
<rect x="118.00" y="631.60" width="7.10" height="5.20" fill="#8aa3d8"/>
<rect x="118.28" y="631.60" width="6.55" height="5.20" fill="#6f8fcd"/>
<rect x="125.10" y="631.60" width="7.10" height="5.20" fill="#8aa3d8"/>
<rect x="125.38" y="631.60" width="6.55" height="5.20" fill="#6f8fcd"/>
<rect x="132.20" y="631.60" width="7.10" height="5.20" fill="#8aa3d8"/>
<rect x="132.47" y="631.60" width="6.55" height="5.20" fill="#6f8fcd"/>
<rect x="47.00" y="654.00" width="7.10" height="15.40" fill="#8aa3d8"/>
<rect x="47.27" y="654.00" width="6.55" height="15.40" fill="#6f8fcd"/>
<rect x="54.10" y="654.00" width="7.10" height="15.40" fill="#8aa3d8"/>
<rect x="54.38" y="654.00" width="6.55" height="15.40" fill="#6f8fcd"/>
<rect x="61.20" y="654.00" width="7.10" height="15.40" fill="#8aa3d8"/>
<rect x="61.48" y="654.00" width="6.55" height="15.40" fill="#6f8fcd"/>
<rect x="68.30" y="654.00" width="7.10" height="15.40" fill="#8aa3d8"/>
<rect x="68.58" y="654.00" width="6.55" height="15.40" fill="#6f8fcd"/>
<rect x="75.40" y="654.00" width="7.10" height="15.40" fill="#8aa3d8"/>
<rect x="75.68" y="654.00" width="6.55" height="15.40" fill="#6f8fcd"/>
<rect x="82.50" y="654.00" width="7.10" height="15.40" fill="#8aa3d8"/>
<rect x="82.78" y="654.00" width="6.55" height="15.40" fill="#6f8fcd"/>
<rect x="89.60" y="664.20" width="7.10" height="5.20" fill="#8aa3d8"/>
<rect x="89.88" y="664.20" width="6.55" height="5.20" fill="#6f8fcd"/>
<rect x="96.70" y="664.20" width="7.10" height="5.20" fill="#8aa3d8"/>
<rect x="96.98" y="664.20" width="6.55" height="5.20" fill="#6f8fcd"/>
<rect x="103.80" y="664.20" width="7.10" height="5.20" fill="#8aa3d8"/>
<rect x="104.08" y="664.20" width="6.55" height="5.20" fill="#6f8fcd"/>
<rect x="104.08" y="664.20" width="6.55" height="1.66" fill="#d9622d"/>
<rect x="104.08" y="665.86" width="6.55" height="3.54" fill="#2f9e3f"/>
<rect x="110.90" y="664.20" width="7.10" height="5.20" fill="#8aa3d8"/>
<rect x="111.18" y="664.20" width="6.55" height="5.20" fill="#6f8fcd"/>
<rect x="111.18" y="664.20" width="6.55" height="1.66" fill="#d9622d"/>
<rect x="111.18" y="665.86" width="6.55" height="3.54" fill="#2f9e3f"/>
<rect x="118.00" y="664.20" width="7.10" height="5.20" fill="#8aa3d8"/>
<rect x="118.28" y="664.20" width="6.55" height="5.20" fill="#6f8fcd"/>
<rect x="125.10" y="664.20" width="7.10" height="5.20" fill="#8aa3d8"/>
<rect x="125.38" y="664.20" width="6.55" height="5.20" fill="#6f8fcd"/>
<rect x="132.20" y="664.20" width="7.10" height="5.20" fill="#8aa3d8"/>
<rect x="132.47" y="664.20" width="6.55" height="5.20" fill="#6f8fcd"/>
<line x1="46" y1="671.4" x2="140.3" y2="671.4" stroke="#666" stroke-width="1"/>
<line x1="46" y1="637.3" x2="140.3" y2="637.3" stroke="#99a" stroke-width="0.8"/>
<rect x="45.80" y="673.40" width="95.00" height="7.40" fill="none" stroke="#7f9bd6" stroke-width="0.6" stroke-dasharray="0.8 0.8"/>
<text x="52.9" y="679.9" font-size="7.6" text-anchor="middle" fill="#d42a2c" stroke="#d42a2c" stroke-width="0.05" font-weight="bold">T</text>
<text x="59.67" y="679.9" font-size="7.6" text-anchor="middle" fill="#2a3c96" stroke="#2a3c96" stroke-width="0.05" font-weight="bold">C</text>
<text x="66.44" y="679.9" font-size="7.6" text-anchor="middle" fill="#2a3c96" stroke="#2a3c96" stroke-width="0.05" font-weight="bold">C</text>
<text x="73.21" y="679.9" font-size="7.6" text-anchor="middle" fill="#d42a2c" stroke="#d42a2c" stroke-width="0.05" font-weight="bold">T</text>
<text x="79.98" y="679.9" font-size="7.6" text-anchor="middle" fill="#f0a13a" stroke="#f0a13a" stroke-width="0.05" font-weight="bold">G</text>
<text x="86.75" y="679.9" font-size="7.6" text-anchor="middle" fill="#f0a13a" stroke="#f0a13a" stroke-width="0.05" font-weight="bold">G</text>
<text x="93.52" y="679.9" font-size="7.6" text-anchor="middle" fill="#f0a13a" stroke="#f0a13a" stroke-width="0.05" font-weight="bold">G</text>
<text x="100.29" y="679.9" font-size="7.6" text-anchor="middle" fill="#d42a2c" stroke="#d42a2c" stroke-width="0.05" font-weight="bold">T</text>
<text x="107.06" y="679.9" font-size="7.6" text-anchor="middle" fill="#3ea53a" stroke="#3ea53a" stroke-width="0.05" font-weight="bold">A</text>
<text x="113.83" y="679.9" font-size="7.6" text-anchor="middle" fill="#3ea53a" stroke="#3ea53a" stroke-width="0.05" font-weight="bold">A</text>
<text x="120.6" y="679.9" font-size="7.6" text-anchor="middle" fill="#f0a13a" stroke="#f0a13a" stroke-width="0.05" font-weight="bold">G</text>
<text x="127.37" y="679.9" font-size="7.6" text-anchor="middle" fill="#f0a13a" stroke="#f0a13a" stroke-width="0.05" font-weight="bold">G</text>
<text x="134.14" y="679.9" font-size="7.6" text-anchor="middle" fill="#3ea53a" stroke="#3ea53a" stroke-width="0.05" font-weight="bold">A</text>
<text x="39" y="635.4" font-size="9.8" text-anchor="end" fill="#231f20" stroke="#231f20" stroke-width="0.16">Pre-ino</text>
<text x="39" y="670" font-size="9.8" text-anchor="end" fill="#231f20" stroke="#231f20" stroke-width="0.16">Post-ino</text>
<line x1="47" y1="687.9" x2="79.3" y2="687.9" stroke="#111" stroke-width="1.4"/>
<line x1="84.5" y1="687.9" x2="123.4" y2="687.9" stroke="#111" stroke-width="1.4"/>
<text x="63" y="698.8" font-size="9.8" text-anchor="middle" fill="#231f20" stroke="#231f20" stroke-width="0.16">Exon 2</text>
<text x="103.6" y="698.8" font-size="9.8" text-anchor="middle" fill="#231f20" stroke="#231f20" stroke-width="0.16">Intron 2</text>
<rect x="315.50" y="616.30" width="102.00" height="67.00" fill="#f5f6fb" stroke="#222" stroke-width="1.3"/>
<rect x="319.50" y="638.70" width="4.49" height="3.80" fill="#8aa3d8"/>
<rect x="319.77" y="638.70" width="3.94" height="3.80" fill="#6f8fcd"/>
<rect x="323.99" y="638.70" width="4.49" height="3.80" fill="#8aa3d8"/>
<rect x="324.26" y="638.70" width="3.94" height="3.80" fill="#6f8fcd"/>
<rect x="328.48" y="638.70" width="4.49" height="3.80" fill="#8aa3d8"/>
<rect x="328.75" y="638.70" width="3.94" height="3.80" fill="#6f8fcd"/>
<rect x="332.96" y="638.70" width="4.49" height="3.80" fill="#8aa3d8"/>
<rect x="333.24" y="638.70" width="3.94" height="3.80" fill="#6f8fcd"/>
<rect x="337.45" y="638.70" width="4.49" height="3.80" fill="#8aa3d8"/>
<rect x="337.73" y="638.70" width="3.94" height="3.80" fill="#6f8fcd"/>
<rect x="341.94" y="638.70" width="4.49" height="3.80" fill="#8aa3d8"/>
<rect x="342.22" y="638.70" width="3.94" height="3.80" fill="#6f8fcd"/>
<rect x="346.43" y="638.70" width="4.49" height="3.80" fill="#8aa3d8"/>
<rect x="346.70" y="638.70" width="3.94" height="3.80" fill="#6f8fcd"/>
<rect x="350.92" y="638.70" width="4.49" height="3.80" fill="#8aa3d8"/>
<rect x="351.19" y="638.70" width="3.94" height="3.80" fill="#6f8fcd"/>
<rect x="355.40" y="638.70" width="4.49" height="3.80" fill="#8aa3d8"/>
<rect x="355.68" y="638.70" width="3.94" height="3.80" fill="#6f8fcd"/>
<rect x="359.89" y="623.00" width="4.49" height="19.50" fill="#8aa3d8"/>
<rect x="360.17" y="623.00" width="3.94" height="19.50" fill="#6f8fcd"/>
<rect x="364.38" y="623.00" width="4.49" height="19.50" fill="#8aa3d8"/>
<rect x="364.66" y="623.00" width="3.94" height="19.50" fill="#6f8fcd"/>
<rect x="368.87" y="623.00" width="4.49" height="19.50" fill="#8aa3d8"/>
<rect x="369.14" y="623.00" width="3.94" height="19.50" fill="#6f8fcd"/>
<rect x="373.36" y="623.00" width="4.49" height="19.50" fill="#8aa3d8"/>
<rect x="373.63" y="623.00" width="3.94" height="19.50" fill="#6f8fcd"/>
<rect x="377.85" y="623.00" width="4.49" height="19.50" fill="#8aa3d8"/>
<rect x="378.12" y="623.00" width="3.94" height="19.50" fill="#6f8fcd"/>
<rect x="382.33" y="623.00" width="4.49" height="19.50" fill="#8aa3d8"/>
<rect x="382.61" y="623.00" width="3.94" height="19.50" fill="#6f8fcd"/>
<rect x="386.82" y="623.00" width="4.49" height="19.50" fill="#8aa3d8"/>
<rect x="387.10" y="623.00" width="3.94" height="19.50" fill="#6f8fcd"/>
<rect x="391.31" y="623.00" width="4.49" height="19.50" fill="#8aa3d8"/>
<rect x="391.58" y="623.00" width="3.94" height="19.50" fill="#6f8fcd"/>
<rect x="395.80" y="623.00" width="4.49" height="19.50" fill="#8aa3d8"/>
<rect x="396.07" y="623.00" width="3.94" height="19.50" fill="#6f8fcd"/>
<rect x="400.29" y="623.00" width="4.49" height="19.50" fill="#8aa3d8"/>
<rect x="400.56" y="623.00" width="3.94" height="19.50" fill="#6f8fcd"/>
<rect x="404.77" y="623.00" width="4.49" height="19.50" fill="#8aa3d8"/>
<rect x="405.05" y="623.00" width="3.94" height="19.50" fill="#6f8fcd"/>
<rect x="409.26" y="623.00" width="4.49" height="19.50" fill="#8aa3d8"/>
<rect x="409.54" y="623.00" width="3.94" height="19.50" fill="#6f8fcd"/>
<rect x="319.50" y="664.90" width="4.49" height="8.20" fill="#8aa3d8"/>
<rect x="319.77" y="664.90" width="3.94" height="8.20" fill="#6f8fcd"/>
<rect x="323.99" y="664.90" width="4.49" height="8.20" fill="#8aa3d8"/>
<rect x="324.26" y="664.90" width="3.94" height="8.20" fill="#6f8fcd"/>
<rect x="328.48" y="664.90" width="4.49" height="8.20" fill="#8aa3d8"/>
<rect x="328.75" y="664.90" width="3.94" height="8.20" fill="#6f8fcd"/>
<rect x="332.96" y="664.70" width="4.49" height="8.40" fill="#8aa3d8"/>
<rect x="333.24" y="664.70" width="3.94" height="8.40" fill="#6f8fcd"/>
<rect x="337.45" y="665.10" width="4.49" height="8.00" fill="#8aa3d8"/>
<rect x="337.73" y="665.10" width="3.94" height="8.00" fill="#6f8fcd"/>
<rect x="341.94" y="664.60" width="4.49" height="8.50" fill="#8aa3d8"/>
<rect x="342.22" y="664.60" width="3.94" height="8.50" fill="#6f8fcd"/>
<rect x="346.43" y="664.90" width="4.49" height="8.20" fill="#8aa3d8"/>
<rect x="346.70" y="664.90" width="3.94" height="8.20" fill="#6f8fcd"/>
<rect x="350.92" y="665.10" width="4.49" height="8.00" fill="#8aa3d8"/>
<rect x="351.19" y="665.10" width="3.94" height="8.00" fill="#6f8fcd"/>
<rect x="355.40" y="665.10" width="4.49" height="8.00" fill="#8aa3d8"/>
<rect x="355.68" y="665.10" width="3.94" height="8.00" fill="#6f8fcd"/>
<rect x="359.89" y="652.90" width="4.49" height="20.20" fill="#8aa3d8"/>
<rect x="360.17" y="652.90" width="3.94" height="20.20" fill="#6f8fcd"/>
<rect x="364.38" y="652.90" width="4.49" height="20.20" fill="#8aa3d8"/>
<rect x="364.66" y="652.90" width="3.94" height="20.20" fill="#6f8fcd"/>
<rect x="368.87" y="652.90" width="4.49" height="20.20" fill="#8aa3d8"/>
<rect x="369.14" y="652.90" width="3.94" height="20.20" fill="#6f8fcd"/>
<rect x="373.36" y="652.90" width="4.49" height="20.20" fill="#8aa3d8"/>
<rect x="373.63" y="652.90" width="3.94" height="20.20" fill="#6f8fcd"/>
<rect x="377.85" y="652.90" width="4.49" height="20.20" fill="#8aa3d8"/>
<rect x="378.12" y="652.90" width="3.94" height="20.20" fill="#6f8fcd"/>
<rect x="382.33" y="652.90" width="4.49" height="20.20" fill="#8aa3d8"/>
<rect x="382.61" y="652.90" width="3.94" height="20.20" fill="#6f8fcd"/>
<rect x="386.82" y="652.90" width="4.49" height="20.20" fill="#8aa3d8"/>
<rect x="387.10" y="652.90" width="3.94" height="20.20" fill="#6f8fcd"/>
<rect x="391.31" y="652.90" width="4.49" height="20.20" fill="#8aa3d8"/>
<rect x="391.58" y="652.90" width="3.94" height="20.20" fill="#6f8fcd"/>
<rect x="395.80" y="652.90" width="4.49" height="20.20" fill="#8aa3d8"/>
<rect x="396.07" y="652.90" width="3.94" height="20.20" fill="#6f8fcd"/>
<rect x="396.07" y="652.90" width="3.94" height="4.50" fill="#e03030"/>
<rect x="396.07" y="657.40" width="3.94" height="15.70" fill="#2f4fa8"/>
<rect x="400.29" y="652.90" width="4.49" height="20.20" fill="#8aa3d8"/>
<rect x="400.56" y="652.90" width="3.94" height="20.20" fill="#6f8fcd"/>
<rect x="404.77" y="652.90" width="4.49" height="20.20" fill="#8aa3d8"/>
<rect x="405.05" y="652.90" width="3.94" height="20.20" fill="#6f8fcd"/>
<rect x="409.26" y="652.90" width="4.49" height="20.20" fill="#8aa3d8"/>
<rect x="409.54" y="652.90" width="3.94" height="20.20" fill="#6f8fcd"/>
<line x1="318.5" y1="674.4" x2="415" y2="674.4" stroke="#777" stroke-width="0.7"/>
<text x="321.74" y="679.4" font-size="4.0" text-anchor="middle" fill="#f0a13a" stroke="#f0a13a" stroke-width="0.08">G</text>
<text x="326.23" y="679.4" font-size="4.0" text-anchor="middle" fill="#2a3c96" stroke="#2a3c96" stroke-width="0.08">C</text>
<text x="330.72" y="679.4" font-size="4.0" text-anchor="middle" fill="#2a3c96" stroke="#2a3c96" stroke-width="0.08">C</text>
<text x="335.21" y="679.4" font-size="4.0" text-anchor="middle" fill="#2a3c96" stroke="#2a3c96" stroke-width="0.08">C</text>
<text x="339.7" y="679.4" font-size="4.0" text-anchor="middle" fill="#d42a2c" stroke="#d42a2c" stroke-width="0.08">T</text>
<text x="344.18" y="679.4" font-size="4.0" text-anchor="middle" fill="#2a3c96" stroke="#2a3c96" stroke-width="0.08">C</text>
<text x="348.67" y="679.4" font-size="4.0" text-anchor="middle" fill="#2a3c96" stroke="#2a3c96" stroke-width="0.08">C</text>
<text x="353.16" y="679.4" font-size="4.0" text-anchor="middle" fill="#3ea53a" stroke="#3ea53a" stroke-width="0.08">A</text>
<text x="357.65" y="679.4" font-size="4.0" text-anchor="middle" fill="#f0a13a" stroke="#f0a13a" stroke-width="0.08">G</text>
<text x="362.14" y="679.4" font-size="4.0" text-anchor="middle" fill="#3ea53a" stroke="#3ea53a" stroke-width="0.08">A</text>
<text x="366.62" y="679.4" font-size="4.0" text-anchor="middle" fill="#d42a2c" stroke="#d42a2c" stroke-width="0.08">T</text>
<text x="371.11" y="679.4" font-size="4.0" text-anchor="middle" fill="#f0a13a" stroke="#f0a13a" stroke-width="0.08">G</text>
<text x="375.6" y="679.4" font-size="4.0" text-anchor="middle" fill="#2a3c96" stroke="#2a3c96" stroke-width="0.08">C</text>
<text x="380.09" y="679.4" font-size="4.0" text-anchor="middle" fill="#2a3c96" stroke="#2a3c96" stroke-width="0.08">C</text>
<text x="384.58" y="679.4" font-size="4.0" text-anchor="middle" fill="#2a3c96" stroke="#2a3c96" stroke-width="0.08">C</text>
<text x="389.07" y="679.4" font-size="4.0" text-anchor="middle" fill="#2a3c96" stroke="#2a3c96" stroke-width="0.08">C</text>
<text x="393.55" y="679.4" font-size="4.0" text-anchor="middle" fill="#2a3c96" stroke="#2a3c96" stroke-width="0.08">C</text>
<text x="398.04" y="679.4" font-size="4.0" text-anchor="middle" fill="#2a3c96" stroke="#2a3c96" stroke-width="0.08">C</text>
<text x="402.53" y="679.4" font-size="4.0" text-anchor="middle" fill="#f0a13a" stroke="#f0a13a" stroke-width="0.08">G</text>
<text x="407.02" y="679.4" font-size="4.0" text-anchor="middle" fill="#3ea53a" stroke="#3ea53a" stroke-width="0.08">A</text>
<text x="411.51" y="679.4" font-size="4.0" text-anchor="middle" fill="#f0a13a" stroke="#f0a13a" stroke-width="0.08">G</text>
<text x="313" y="632.5" font-size="10" text-anchor="end" fill="#231f20" stroke="#231f20" stroke-width="0.16">Pre-ino</text>
<text x="313" y="660.8" font-size="10" text-anchor="end" fill="#231f20" stroke="#231f20" stroke-width="0.16">Post-ino</text>
<line x1="318.75" y1="688.6" x2="358" y2="688.6" stroke="#111" stroke-width="1.4"/>
<line x1="362.5" y1="688.6" x2="413.75" y2="688.6" stroke="#111" stroke-width="1.4"/>
<text x="338.7" y="698.8" font-size="9.8" text-anchor="middle" fill="#231f20" stroke="#231f20" stroke-width="0.16">Intron 7</text>
<text x="387.8" y="698.8" font-size="9.8" text-anchor="middle" fill="#231f20" stroke="#231f20" stroke-width="0.16">Exon 8</text>
<text transform="translate(175.66 637.00) scale(1.105 2.654)" font-size="10.0" font-weight="bold" text-anchor="middle" fill="#d42a2c">T</text>
<text transform="translate(181.97 637.00) scale(0.935 2.654)" font-size="10.0" font-weight="bold" text-anchor="middle" fill="#2a3c96">C</text>
<text transform="translate(188.28 637.00) scale(0.935 2.654)" font-size="10.0" font-weight="bold" text-anchor="middle" fill="#2a3c96">C</text>
<text transform="translate(194.59 637.00) scale(1.105 2.654)" font-size="10.0" font-weight="bold" text-anchor="middle" fill="#d42a2c">T</text>
<text transform="translate(200.90 637.00) scale(0.868 2.654)" font-size="10.0" font-weight="bold" text-anchor="middle" fill="#f0a13a">G</text>
<text transform="translate(207.20 637.00) scale(0.868 2.654)" font-size="10.0" font-weight="bold" text-anchor="middle" fill="#f0a13a">G</text>
<text transform="translate(213.51 637.00) scale(0.868 2.654)" font-size="10.0" font-weight="bold" text-anchor="middle" fill="#f0a13a">G</text>
<text transform="translate(219.82 637.00) scale(1.105 2.654)" font-size="10.0" font-weight="bold" text-anchor="middle" fill="#d42a2c">T</text>
<text transform="translate(226.13 637.00) scale(0.935 2.654)" font-size="10.0" font-weight="bold" text-anchor="middle" fill="#3ea53a">A</text>
<text transform="translate(232.44 637.00) scale(0.935 2.654)" font-size="10.0" font-weight="bold" text-anchor="middle" fill="#3ea53a">A</text>
<text transform="translate(238.75 637.00) scale(0.868 2.654)" font-size="10.0" font-weight="bold" text-anchor="middle" fill="#f0a13a">G</text>
<text transform="translate(245.06 637.00) scale(0.868 2.654)" font-size="10.0" font-weight="bold" text-anchor="middle" fill="#f0a13a">G</text>
<text transform="translate(251.38 637.00) scale(0.935 2.654)" font-size="10.0" font-weight="bold" text-anchor="middle" fill="#3ea53a">A</text>
<line x1="168.5" y1="618" x2="168.5" y2="637" stroke="#666" stroke-width="0.4"/>
<line x1="172.5" y1="639" x2="254.53" y2="639" stroke="#777" stroke-width="0.5"/>
<line x1="175.66" y1="639" x2="175.66" y2="640.4" stroke="#777" stroke-width="0.5"/>
<line x1="181.97" y1="639" x2="181.97" y2="640.4" stroke="#777" stroke-width="0.5"/>
<line x1="188.28" y1="639" x2="188.28" y2="640.4" stroke="#777" stroke-width="0.5"/>
<line x1="194.59" y1="639" x2="194.59" y2="640.4" stroke="#777" stroke-width="0.5"/>
<line x1="200.9" y1="639" x2="200.9" y2="640.4" stroke="#777" stroke-width="0.5"/>
<line x1="207.2" y1="639" x2="207.2" y2="640.4" stroke="#777" stroke-width="0.5"/>
<line x1="213.51" y1="639" x2="213.51" y2="640.4" stroke="#777" stroke-width="0.5"/>
<line x1="219.82" y1="639" x2="219.82" y2="640.4" stroke="#777" stroke-width="0.5"/>
<line x1="226.13" y1="639" x2="226.13" y2="640.4" stroke="#777" stroke-width="0.5"/>
<line x1="232.44" y1="639" x2="232.44" y2="640.4" stroke="#777" stroke-width="0.5"/>
<line x1="238.75" y1="639" x2="238.75" y2="640.4" stroke="#777" stroke-width="0.5"/>
<line x1="245.06" y1="639" x2="245.06" y2="640.4" stroke="#777" stroke-width="0.5"/>
<line x1="251.38" y1="639" x2="251.38" y2="640.4" stroke="#777" stroke-width="0.5"/>
<text x="175.66" y="643.8" font-size="4.0" text-anchor="middle" fill="#333" stroke="#333" stroke-width="0.08">1</text>
<text x="181.97" y="643.8" font-size="4.0" text-anchor="middle" fill="#333" stroke="#333" stroke-width="0.08">2</text>
<text x="188.28" y="643.8" font-size="4.0" text-anchor="middle" fill="#333" stroke="#333" stroke-width="0.08">3</text>
<text x="194.59" y="643.8" font-size="4.0" text-anchor="middle" fill="#333" stroke="#333" stroke-width="0.08">4</text>
<text x="200.9" y="643.8" font-size="4.0" text-anchor="middle" fill="#333" stroke="#333" stroke-width="0.08">5</text>
<text x="207.2" y="643.8" font-size="4.0" text-anchor="middle" fill="#333" stroke="#333" stroke-width="0.08">6</text>
<text x="213.51" y="643.8" font-size="4.0" text-anchor="middle" fill="#333" stroke="#333" stroke-width="0.08">7</text>
<text x="219.82" y="643.8" font-size="4.0" text-anchor="middle" fill="#333" stroke="#333" stroke-width="0.08">8</text>
<text x="226.13" y="643.8" font-size="4.0" text-anchor="middle" fill="#333" stroke="#333" stroke-width="0.08">9</text>
<text x="232.44" y="643.8" font-size="4.0" text-anchor="middle" fill="#333" stroke="#333" stroke-width="0.08">10</text>
<text x="238.75" y="643.8" font-size="4.0" text-anchor="middle" fill="#333" stroke="#333" stroke-width="0.08">11</text>
<text x="245.06" y="643.8" font-size="4.0" text-anchor="middle" fill="#333" stroke="#333" stroke-width="0.08">12</text>
<text x="251.38" y="643.8" font-size="4.0" text-anchor="middle" fill="#333" stroke="#333" stroke-width="0.08">13</text>
<text x="213.51" y="648.2" font-size="4.3" text-anchor="middle" fill="#333" stroke="#333" stroke-width="0.08">Position</text>
<text x="156.5" y="627.5" font-size="4.3" text-anchor="middle" fill="#333" stroke="#333" stroke-width="0.08" transform="rotate(-90 156.5 627.5)">Probability</text>
<line x1="166.9" y1="637.0" x2="168.5" y2="637.0" stroke="#555" stroke-width="0.4"/>
<text x="165.3" y="637.0" font-size="2.6" text-anchor="middle" fill="#333" stroke="#333" stroke-width="0.08" transform="rotate(-90 165.3 637.0)">0.0</text>
<line x1="166.9" y1="633.2" x2="168.5" y2="633.2" stroke="#555" stroke-width="0.4"/>
<text x="165.3" y="633.2" font-size="2.6" text-anchor="middle" fill="#333" stroke="#333" stroke-width="0.08" transform="rotate(-90 165.3 633.2)">0.2</text>
<line x1="166.9" y1="629.4" x2="168.5" y2="629.4" stroke="#555" stroke-width="0.4"/>
<text x="165.3" y="629.4" font-size="2.6" text-anchor="middle" fill="#333" stroke="#333" stroke-width="0.08" transform="rotate(-90 165.3 629.4)">0.4</text>
<line x1="166.9" y1="625.6" x2="168.5" y2="625.6" stroke="#555" stroke-width="0.4"/>
<text x="165.3" y="625.6" font-size="2.6" text-anchor="middle" fill="#333" stroke="#333" stroke-width="0.08" transform="rotate(-90 165.3 625.6)">0.6</text>
<line x1="166.9" y1="621.8" x2="168.5" y2="621.8" stroke="#555" stroke-width="0.4"/>
<text x="165.3" y="621.8" font-size="2.6" text-anchor="middle" fill="#333" stroke="#333" stroke-width="0.08" transform="rotate(-90 165.3 621.8)">0.8</text>
<line x1="166.9" y1="618.0" x2="168.5" y2="618.0" stroke="#555" stroke-width="0.4"/>
<text x="165.3" y="618.0" font-size="2.6" text-anchor="middle" fill="#333" stroke="#333" stroke-width="0.08" transform="rotate(-90 165.3 618.0)">1</text>
<text transform="translate(175.66 676.30) scale(1.105 2.444)" font-size="10.0" font-weight="bold" text-anchor="middle" fill="#d42a2c">T</text>
<text transform="translate(181.97 676.30) scale(0.935 2.444)" font-size="10.0" font-weight="bold" text-anchor="middle" fill="#2a3c96">C</text>
<text transform="translate(188.28 676.30) scale(0.935 2.444)" font-size="10.0" font-weight="bold" text-anchor="middle" fill="#2a3c96">C</text>
<text transform="translate(194.59 676.30) scale(1.105 2.444)" font-size="10.0" font-weight="bold" text-anchor="middle" fill="#d42a2c">T</text>
<text transform="translate(200.90 676.30) scale(0.868 2.444)" font-size="10.0" font-weight="bold" text-anchor="middle" fill="#f0a13a">G</text>
<text transform="translate(207.20 676.30) scale(0.868 2.444)" font-size="10.0" font-weight="bold" text-anchor="middle" fill="#f0a13a">G</text>
<text transform="translate(213.51 676.30) scale(0.868 2.444)" font-size="10.0" font-weight="bold" text-anchor="middle" fill="#f0a13a">G</text>
<text transform="translate(219.82 676.30) scale(1.105 2.444)" font-size="10.0" font-weight="bold" text-anchor="middle" fill="#d42a2c">T</text>
<text transform="translate(226.13 676.30) scale(0.868 0.440)" font-size="10.0" font-weight="bold" text-anchor="middle" fill="#f0a13a">G</text>
<text transform="translate(226.13 673.15) scale(0.935 2.004)" font-size="10.0" font-weight="bold" text-anchor="middle" fill="#3ea53a">A</text>
<text transform="translate(232.44 676.30) scale(0.868 0.440)" font-size="10.0" font-weight="bold" text-anchor="middle" fill="#f0a13a">G</text>
<text transform="translate(232.44 673.15) scale(0.935 2.004)" font-size="10.0" font-weight="bold" text-anchor="middle" fill="#3ea53a">A</text>
<text transform="translate(238.75 676.30) scale(0.868 2.444)" font-size="10.0" font-weight="bold" text-anchor="middle" fill="#f0a13a">G</text>
<text transform="translate(245.06 676.30) scale(0.868 2.444)" font-size="10.0" font-weight="bold" text-anchor="middle" fill="#f0a13a">G</text>
<text transform="translate(251.38 676.30) scale(0.935 2.444)" font-size="10.0" font-weight="bold" text-anchor="middle" fill="#3ea53a">A</text>
<line x1="168.5" y1="658.8" x2="168.5" y2="676.3" stroke="#666" stroke-width="0.4"/>
<line x1="172.5" y1="678.3" x2="254.53" y2="678.3" stroke="#777" stroke-width="0.5"/>
<line x1="175.66" y1="678.3" x2="175.66" y2="679.6999999999999" stroke="#777" stroke-width="0.5"/>
<line x1="181.97" y1="678.3" x2="181.97" y2="679.6999999999999" stroke="#777" stroke-width="0.5"/>
<line x1="188.28" y1="678.3" x2="188.28" y2="679.6999999999999" stroke="#777" stroke-width="0.5"/>
<line x1="194.59" y1="678.3" x2="194.59" y2="679.6999999999999" stroke="#777" stroke-width="0.5"/>
<line x1="200.9" y1="678.3" x2="200.9" y2="679.6999999999999" stroke="#777" stroke-width="0.5"/>
<line x1="207.2" y1="678.3" x2="207.2" y2="679.6999999999999" stroke="#777" stroke-width="0.5"/>
<line x1="213.51" y1="678.3" x2="213.51" y2="679.6999999999999" stroke="#777" stroke-width="0.5"/>
<line x1="219.82" y1="678.3" x2="219.82" y2="679.6999999999999" stroke="#777" stroke-width="0.5"/>
<line x1="226.13" y1="678.3" x2="226.13" y2="679.6999999999999" stroke="#777" stroke-width="0.5"/>
<line x1="232.44" y1="678.3" x2="232.44" y2="679.6999999999999" stroke="#777" stroke-width="0.5"/>
<line x1="238.75" y1="678.3" x2="238.75" y2="679.6999999999999" stroke="#777" stroke-width="0.5"/>
<line x1="245.06" y1="678.3" x2="245.06" y2="679.6999999999999" stroke="#777" stroke-width="0.5"/>
<line x1="251.38" y1="678.3" x2="251.38" y2="679.6999999999999" stroke="#777" stroke-width="0.5"/>
<text x="175.66" y="683.0999999999999" font-size="4.0" text-anchor="middle" fill="#333" stroke="#333" stroke-width="0.08">1</text>
<text x="181.97" y="683.0999999999999" font-size="4.0" text-anchor="middle" fill="#333" stroke="#333" stroke-width="0.08">2</text>
<text x="188.28" y="683.0999999999999" font-size="4.0" text-anchor="middle" fill="#333" stroke="#333" stroke-width="0.08">3</text>
<text x="194.59" y="683.0999999999999" font-size="4.0" text-anchor="middle" fill="#333" stroke="#333" stroke-width="0.08">4</text>
<text x="200.9" y="683.0999999999999" font-size="4.0" text-anchor="middle" fill="#333" stroke="#333" stroke-width="0.08">5</text>
<text x="207.2" y="683.0999999999999" font-size="4.0" text-anchor="middle" fill="#333" stroke="#333" stroke-width="0.08">6</text>
<text x="213.51" y="683.0999999999999" font-size="4.0" text-anchor="middle" fill="#333" stroke="#333" stroke-width="0.08">7</text>
<text x="219.82" y="683.0999999999999" font-size="4.0" text-anchor="middle" fill="#333" stroke="#333" stroke-width="0.08">8</text>
<text x="226.13" y="683.0999999999999" font-size="4.0" text-anchor="middle" fill="#333" stroke="#333" stroke-width="0.08">9</text>
<text x="232.44" y="683.0999999999999" font-size="4.0" text-anchor="middle" fill="#333" stroke="#333" stroke-width="0.08">10</text>
<text x="238.75" y="683.0999999999999" font-size="4.0" text-anchor="middle" fill="#333" stroke="#333" stroke-width="0.08">11</text>
<text x="245.06" y="683.0999999999999" font-size="4.0" text-anchor="middle" fill="#333" stroke="#333" stroke-width="0.08">12</text>
<text x="251.38" y="683.0999999999999" font-size="4.0" text-anchor="middle" fill="#333" stroke="#333" stroke-width="0.08">13</text>
<text x="213.51" y="687.5" font-size="4.3" text-anchor="middle" fill="#333" stroke="#333" stroke-width="0.08">Position</text>
<text x="156.5" y="667.55" font-size="4.3" text-anchor="middle" fill="#333" stroke="#333" stroke-width="0.08" transform="rotate(-90 156.5 667.55)">Probability</text>
<line x1="166.9" y1="676.3" x2="168.5" y2="676.3" stroke="#555" stroke-width="0.4"/>
<text x="165.3" y="676.3" font-size="2.6" text-anchor="middle" fill="#333" stroke="#333" stroke-width="0.08" transform="rotate(-90 165.3 676.3)">0.0</text>
<line x1="166.9" y1="672.8" x2="168.5" y2="672.8" stroke="#555" stroke-width="0.4"/>
<text x="165.3" y="672.8" font-size="2.6" text-anchor="middle" fill="#333" stroke="#333" stroke-width="0.08" transform="rotate(-90 165.3 672.8)">0.2</text>
<line x1="166.9" y1="669.3" x2="168.5" y2="669.3" stroke="#555" stroke-width="0.4"/>
<text x="165.3" y="669.3" font-size="2.6" text-anchor="middle" fill="#333" stroke="#333" stroke-width="0.08" transform="rotate(-90 165.3 669.3)">0.4</text>
<line x1="166.9" y1="665.8" x2="168.5" y2="665.8" stroke="#555" stroke-width="0.4"/>
<text x="165.3" y="665.8" font-size="2.6" text-anchor="middle" fill="#333" stroke="#333" stroke-width="0.08" transform="rotate(-90 165.3 665.8)">0.6</text>
<line x1="166.9" y1="662.3" x2="168.5" y2="662.3" stroke="#555" stroke-width="0.4"/>
<text x="165.3" y="662.3" font-size="2.6" text-anchor="middle" fill="#333" stroke="#333" stroke-width="0.08" transform="rotate(-90 165.3 662.3)">0.8</text>
<line x1="166.9" y1="658.8" x2="168.5" y2="658.8" stroke="#555" stroke-width="0.4"/>
<text x="165.3" y="658.8" font-size="2.6" text-anchor="middle" fill="#333" stroke="#333" stroke-width="0.08" transform="rotate(-90 165.3 658.8)">1</text>
<text transform="translate(446.58 637.00) scale(0.943 2.751)" font-size="10.0" font-weight="bold" text-anchor="middle" fill="#3ea53a">A</text>
<text transform="translate(452.94 637.00) scale(1.114 2.751)" font-size="10.0" font-weight="bold" text-anchor="middle" fill="#d42a2c">T</text>
<text transform="translate(459.30 637.00) scale(0.875 2.751)" font-size="10.0" font-weight="bold" text-anchor="middle" fill="#f0a13a">G</text>
<text transform="translate(465.66 637.00) scale(0.943 2.751)" font-size="10.0" font-weight="bold" text-anchor="middle" fill="#2a3c96">C</text>
<text transform="translate(472.02 637.00) scale(0.943 2.751)" font-size="10.0" font-weight="bold" text-anchor="middle" fill="#2a3c96">C</text>
<text transform="translate(478.38 637.00) scale(0.943 2.751)" font-size="10.0" font-weight="bold" text-anchor="middle" fill="#2a3c96">C</text>
<text transform="translate(484.74 637.00) scale(0.943 2.751)" font-size="10.0" font-weight="bold" text-anchor="middle" fill="#2a3c96">C</text>
<text transform="translate(491.10 637.00) scale(0.943 2.751)" font-size="10.0" font-weight="bold" text-anchor="middle" fill="#2a3c96">C</text>
<text transform="translate(497.46 637.00) scale(0.943 2.751)" font-size="10.0" font-weight="bold" text-anchor="middle" fill="#2a3c96">C</text>
<text transform="translate(503.82 637.00) scale(0.875 2.751)" font-size="10.0" font-weight="bold" text-anchor="middle" fill="#f0a13a">G</text>
<text transform="translate(510.18 637.00) scale(0.943 2.751)" font-size="10.0" font-weight="bold" text-anchor="middle" fill="#3ea53a">A</text>
<text transform="translate(516.54 637.00) scale(0.875 2.751)" font-size="10.0" font-weight="bold" text-anchor="middle" fill="#f0a13a">G</text>
<line x1="441" y1="617.3" x2="441" y2="637" stroke="#666" stroke-width="0.4"/>
<line x1="443.4" y1="639" x2="519.72" y2="639" stroke="#777" stroke-width="0.5"/>
<line x1="446.58" y1="639" x2="446.58" y2="640.4" stroke="#777" stroke-width="0.5"/>
<line x1="452.94" y1="639" x2="452.94" y2="640.4" stroke="#777" stroke-width="0.5"/>
<line x1="459.3" y1="639" x2="459.3" y2="640.4" stroke="#777" stroke-width="0.5"/>
<line x1="465.66" y1="639" x2="465.66" y2="640.4" stroke="#777" stroke-width="0.5"/>
<line x1="472.02" y1="639" x2="472.02" y2="640.4" stroke="#777" stroke-width="0.5"/>
<line x1="478.38" y1="639" x2="478.38" y2="640.4" stroke="#777" stroke-width="0.5"/>
<line x1="484.74" y1="639" x2="484.74" y2="640.4" stroke="#777" stroke-width="0.5"/>
<line x1="491.1" y1="639" x2="491.1" y2="640.4" stroke="#777" stroke-width="0.5"/>
<line x1="497.46" y1="639" x2="497.46" y2="640.4" stroke="#777" stroke-width="0.5"/>
<line x1="503.82" y1="639" x2="503.82" y2="640.4" stroke="#777" stroke-width="0.5"/>
<line x1="510.18" y1="639" x2="510.18" y2="640.4" stroke="#777" stroke-width="0.5"/>
<line x1="516.54" y1="639" x2="516.54" y2="640.4" stroke="#777" stroke-width="0.5"/>
<text x="446.58" y="644.6" font-size="4.0" text-anchor="middle" fill="#333" stroke="#333" stroke-width="0.08">1</text>
<text x="452.94" y="644.6" font-size="4.0" text-anchor="middle" fill="#333" stroke="#333" stroke-width="0.08">2</text>
<text x="459.3" y="644.6" font-size="4.0" text-anchor="middle" fill="#333" stroke="#333" stroke-width="0.08">3</text>
<text x="465.66" y="644.6" font-size="4.0" text-anchor="middle" fill="#333" stroke="#333" stroke-width="0.08">4</text>
<text x="472.02" y="644.6" font-size="4.0" text-anchor="middle" fill="#333" stroke="#333" stroke-width="0.08">5</text>
<text x="478.38" y="644.6" font-size="4.0" text-anchor="middle" fill="#333" stroke="#333" stroke-width="0.08">6</text>
<text x="484.74" y="644.6" font-size="4.0" text-anchor="middle" fill="#333" stroke="#333" stroke-width="0.08">7</text>
<text x="491.1" y="644.6" font-size="4.0" text-anchor="middle" fill="#333" stroke="#333" stroke-width="0.08">8</text>
<text x="497.46" y="644.6" font-size="4.0" text-anchor="middle" fill="#333" stroke="#333" stroke-width="0.08">9</text>
<text x="503.82" y="644.6" font-size="4.0" text-anchor="middle" fill="#333" stroke="#333" stroke-width="0.08">10</text>
<text x="510.18" y="644.6" font-size="4.0" text-anchor="middle" fill="#333" stroke="#333" stroke-width="0.08">11</text>
<text x="516.54" y="644.6" font-size="4.0" text-anchor="middle" fill="#333" stroke="#333" stroke-width="0.08">12</text>
<text x="481.56" y="649.8" font-size="4.3" text-anchor="middle" fill="#333" stroke="#333" stroke-width="0.08">Position</text>
<text x="427" y="627.15" font-size="4.3" text-anchor="middle" fill="#333" stroke="#333" stroke-width="0.08" transform="rotate(-90 427 627.15)">Probability</text>
<line x1="439.4" y1="637.0" x2="441" y2="637.0" stroke="#555" stroke-width="0.4"/>
<text x="437.8" y="637.0" font-size="2.6" text-anchor="middle" fill="#333" stroke="#333" stroke-width="0.08" transform="rotate(-90 437.8 637.0)">0.0</text>
<line x1="439.4" y1="633.06" x2="441" y2="633.06" stroke="#555" stroke-width="0.4"/>
<text x="437.8" y="633.06" font-size="2.6" text-anchor="middle" fill="#333" stroke="#333" stroke-width="0.08" transform="rotate(-90 437.8 633.06)">0.2</text>
<line x1="439.4" y1="629.12" x2="441" y2="629.12" stroke="#555" stroke-width="0.4"/>
<text x="437.8" y="629.12" font-size="2.6" text-anchor="middle" fill="#333" stroke="#333" stroke-width="0.08" transform="rotate(-90 437.8 629.12)">0.4</text>
<line x1="439.4" y1="625.18" x2="441" y2="625.18" stroke="#555" stroke-width="0.4"/>
<text x="437.8" y="625.18" font-size="2.6" text-anchor="middle" fill="#333" stroke="#333" stroke-width="0.08" transform="rotate(-90 437.8 625.18)">0.6</text>
<line x1="439.4" y1="621.24" x2="441" y2="621.24" stroke="#555" stroke-width="0.4"/>
<text x="437.8" y="621.24" font-size="2.6" text-anchor="middle" fill="#333" stroke="#333" stroke-width="0.08" transform="rotate(-90 437.8 621.24)">0.8</text>
<line x1="439.4" y1="617.3" x2="441" y2="617.3" stroke="#555" stroke-width="0.4"/>
<text x="437.8" y="617.3" font-size="2.6" text-anchor="middle" fill="#333" stroke="#333" stroke-width="0.08" transform="rotate(-90 437.8 617.3)">1</text>
<text transform="translate(446.58 677.80) scale(0.943 2.654)" font-size="10.0" font-weight="bold" text-anchor="middle" fill="#3ea53a">A</text>
<text transform="translate(452.94 677.80) scale(1.114 2.654)" font-size="10.0" font-weight="bold" text-anchor="middle" fill="#d42a2c">T</text>
<text transform="translate(459.30 677.80) scale(0.875 2.654)" font-size="10.0" font-weight="bold" text-anchor="middle" fill="#f0a13a">G</text>
<text transform="translate(465.66 677.80) scale(0.943 2.654)" font-size="10.0" font-weight="bold" text-anchor="middle" fill="#2a3c96">C</text>
<text transform="translate(472.02 677.80) scale(0.943 2.654)" font-size="10.0" font-weight="bold" text-anchor="middle" fill="#2a3c96">C</text>
<text transform="translate(478.38 677.80) scale(0.943 2.654)" font-size="10.0" font-weight="bold" text-anchor="middle" fill="#2a3c96">C</text>
<text transform="translate(484.74 677.80) scale(0.943 2.654)" font-size="10.0" font-weight="bold" text-anchor="middle" fill="#2a3c96">C</text>
<text transform="translate(491.10 677.80) scale(0.943 2.654)" font-size="10.0" font-weight="bold" text-anchor="middle" fill="#2a3c96">C</text>
<text transform="translate(497.46 677.80) scale(1.114 0.690)" font-size="10.0" font-weight="bold" text-anchor="middle" fill="#d42a2c">T</text>
<text transform="translate(497.46 672.86) scale(0.943 1.964)" font-size="10.0" font-weight="bold" text-anchor="middle" fill="#2a3c96">C</text>
<text transform="translate(503.82 677.80) scale(0.875 2.654)" font-size="10.0" font-weight="bold" text-anchor="middle" fill="#f0a13a">G</text>
<text transform="translate(510.18 677.80) scale(0.943 2.654)" font-size="10.0" font-weight="bold" text-anchor="middle" fill="#3ea53a">A</text>
<text transform="translate(516.54 677.80) scale(0.875 2.654)" font-size="10.0" font-weight="bold" text-anchor="middle" fill="#f0a13a">G</text>
<line x1="441" y1="658.8" x2="441" y2="677.8" stroke="#666" stroke-width="0.4"/>
<line x1="443.4" y1="679.8" x2="519.72" y2="679.8" stroke="#777" stroke-width="0.5"/>
<line x1="446.58" y1="679.8" x2="446.58" y2="681.1999999999999" stroke="#777" stroke-width="0.5"/>
<line x1="452.94" y1="679.8" x2="452.94" y2="681.1999999999999" stroke="#777" stroke-width="0.5"/>
<line x1="459.3" y1="679.8" x2="459.3" y2="681.1999999999999" stroke="#777" stroke-width="0.5"/>
<line x1="465.66" y1="679.8" x2="465.66" y2="681.1999999999999" stroke="#777" stroke-width="0.5"/>
<line x1="472.02" y1="679.8" x2="472.02" y2="681.1999999999999" stroke="#777" stroke-width="0.5"/>
<line x1="478.38" y1="679.8" x2="478.38" y2="681.1999999999999" stroke="#777" stroke-width="0.5"/>
<line x1="484.74" y1="679.8" x2="484.74" y2="681.1999999999999" stroke="#777" stroke-width="0.5"/>
<line x1="491.1" y1="679.8" x2="491.1" y2="681.1999999999999" stroke="#777" stroke-width="0.5"/>
<line x1="497.46" y1="679.8" x2="497.46" y2="681.1999999999999" stroke="#777" stroke-width="0.5"/>
<line x1="503.82" y1="679.8" x2="503.82" y2="681.1999999999999" stroke="#777" stroke-width="0.5"/>
<line x1="510.18" y1="679.8" x2="510.18" y2="681.1999999999999" stroke="#777" stroke-width="0.5"/>
<line x1="516.54" y1="679.8" x2="516.54" y2="681.1999999999999" stroke="#777" stroke-width="0.5"/>
<text x="446.58" y="685.4" font-size="4.0" text-anchor="middle" fill="#333" stroke="#333" stroke-width="0.08">1</text>
<text x="452.94" y="685.4" font-size="4.0" text-anchor="middle" fill="#333" stroke="#333" stroke-width="0.08">2</text>
<text x="459.3" y="685.4" font-size="4.0" text-anchor="middle" fill="#333" stroke="#333" stroke-width="0.08">3</text>
<text x="465.66" y="685.4" font-size="4.0" text-anchor="middle" fill="#333" stroke="#333" stroke-width="0.08">4</text>
<text x="472.02" y="685.4" font-size="4.0" text-anchor="middle" fill="#333" stroke="#333" stroke-width="0.08">5</text>
<text x="478.38" y="685.4" font-size="4.0" text-anchor="middle" fill="#333" stroke="#333" stroke-width="0.08">6</text>
<text x="484.74" y="685.4" font-size="4.0" text-anchor="middle" fill="#333" stroke="#333" stroke-width="0.08">7</text>
<text x="491.1" y="685.4" font-size="4.0" text-anchor="middle" fill="#333" stroke="#333" stroke-width="0.08">8</text>
<text x="497.46" y="685.4" font-size="4.0" text-anchor="middle" fill="#333" stroke="#333" stroke-width="0.08">9</text>
<text x="503.82" y="685.4" font-size="4.0" text-anchor="middle" fill="#333" stroke="#333" stroke-width="0.08">10</text>
<text x="510.18" y="685.4" font-size="4.0" text-anchor="middle" fill="#333" stroke="#333" stroke-width="0.08">11</text>
<text x="516.54" y="685.4" font-size="4.0" text-anchor="middle" fill="#333" stroke="#333" stroke-width="0.08">12</text>
<text x="481.56" y="690.5999999999999" font-size="4.3" text-anchor="middle" fill="#333" stroke="#333" stroke-width="0.08">Position</text>
<text x="427" y="668.3" font-size="4.3" text-anchor="middle" fill="#333" stroke="#333" stroke-width="0.08" transform="rotate(-90 427 668.3)">Probability</text>
<line x1="439.4" y1="677.8" x2="441" y2="677.8" stroke="#555" stroke-width="0.4"/>
<text x="437.8" y="677.8" font-size="2.6" text-anchor="middle" fill="#333" stroke="#333" stroke-width="0.08" transform="rotate(-90 437.8 677.8)">0.0</text>
<line x1="439.4" y1="674.0" x2="441" y2="674.0" stroke="#555" stroke-width="0.4"/>
<text x="437.8" y="674.0" font-size="2.6" text-anchor="middle" fill="#333" stroke="#333" stroke-width="0.08" transform="rotate(-90 437.8 674.0)">0.2</text>
<line x1="439.4" y1="670.2" x2="441" y2="670.2" stroke="#555" stroke-width="0.4"/>
<text x="437.8" y="670.2" font-size="2.6" text-anchor="middle" fill="#333" stroke="#333" stroke-width="0.08" transform="rotate(-90 437.8 670.2)">0.4</text>
<line x1="439.4" y1="666.4" x2="441" y2="666.4" stroke="#555" stroke-width="0.4"/>
<text x="437.8" y="666.4" font-size="2.6" text-anchor="middle" fill="#333" stroke="#333" stroke-width="0.08" transform="rotate(-90 437.8 666.4)">0.6</text>
<line x1="439.4" y1="662.6" x2="441" y2="662.6" stroke="#555" stroke-width="0.4"/>
<text x="437.8" y="662.6" font-size="2.6" text-anchor="middle" fill="#333" stroke="#333" stroke-width="0.08" transform="rotate(-90 437.8 662.6)">0.8</text>
<line x1="439.4" y1="658.8" x2="441" y2="658.8" stroke="#555" stroke-width="0.4"/>
<text x="437.8" y="658.8" font-size="2.6" text-anchor="middle" fill="#333" stroke="#333" stroke-width="0.08" transform="rotate(-90 437.8 658.8)">1</text>
<text x="0.5" y="722.9" font-size="11.2" text-anchor="start" fill="#231f20" stroke="#231f20" stroke-width="0.4" font-weight="bold">E</text>
<text x="269" y="728.8" font-size="11.2" text-anchor="start" fill="#231f20" stroke="#231f20" stroke-width="0.4" font-weight="bold">H</text>
<rect x="57.20" y="729.50" width="57.90" height="22.50" fill="#cc6bac"/>
<rect x="114.80" y="729.50" width="19.30" height="22.50" fill="#6c91cd"/>
<rect x="133.80" y="729.50" width="74.20" height="22.50" fill="#12bac2"/>
<rect x="207.70" y="729.50" width="12.60" height="22.50" fill="#2eb24a"/>
<rect x="220.00" y="729.50" width="9.50" height="22.50" fill="#b79d2e"/>
<rect x="229.20" y="729.50" width="5.90" height="22.50" fill="#f1706c"/>
<rect x="57.20" y="755.00" width="15.60" height="22.40" fill="#cc6bac"/>
<rect x="72.50" y="755.00" width="5.80" height="22.40" fill="#6c91cd"/>
<rect x="78.00" y="755.00" width="17.30" height="22.40" fill="#12bac2"/>
<rect x="95.00" y="755.00" width="4.05" height="22.40" fill="#2eb24a"/>
<rect x="55.20" y="726.90" width="188.80" height="52.60" fill="none" stroke="#111" stroke-width="2"/>
<text x="54.8" y="722.8" font-size="9.2" text-anchor="end" fill="#231f20" stroke="#231f20" stroke-width="0.16" transform="rotate(90 54.8 722.8)">0</text>
<text x="108.8" y="722.8" font-size="9.2" text-anchor="end" fill="#231f20" stroke="#231f20" stroke-width="0.16" transform="rotate(90 108.8 722.8)">2</text>
<text x="163.10000000000002" y="722.8" font-size="9.2" text-anchor="end" fill="#231f20" stroke="#231f20" stroke-width="0.16" transform="rotate(90 163.10000000000002 722.8)">4</text>
<text x="217.8" y="722.8" font-size="9.2" text-anchor="end" fill="#231f20" stroke="#231f20" stroke-width="0.16" transform="rotate(90 217.8 722.8)">6</text>
<text x="51" y="743.7" font-size="9.8" text-anchor="end" fill="#231f20" stroke="#231f20" stroke-width="0.16">Pre-ino</text>
<text x="51" y="768.8" font-size="9.8" text-anchor="end" fill="#231f20" stroke="#231f20" stroke-width="0.16">Post-ino</text>
<rect x="330.00" y="730.50" width="23.30" height="21.50" fill="#cc6bac"/>
<rect x="353.00" y="730.50" width="17.30" height="21.50" fill="#6c91cd"/>
<rect x="370.00" y="730.50" width="107.05" height="21.50" fill="#12bac2"/>
<rect x="476.75" y="730.50" width="6.05" height="21.50" fill="#2eb24a"/>
<rect x="482.50" y="730.50" width="19.05" height="21.50" fill="#b79d2e"/>
<rect x="501.25" y="730.50" width="5.80" height="21.50" fill="#f1706c"/>
<rect x="330.00" y="755.00" width="2.80" height="22.00" fill="#cc6bac"/>
<rect x="332.50" y="755.00" width="147.80" height="22.00" fill="#12bac2"/>
<rect x="480.00" y="755.00" width="7.05" height="22.00" fill="#2eb24a"/>
<rect x="486.75" y="755.00" width="9.80" height="22.00" fill="#b79d2e"/>
<rect x="496.25" y="755.00" width="1.55" height="22.00" fill="#f1706c"/>
<rect x="327.40" y="726.90" width="187.00" height="52.60" fill="none" stroke="#111" stroke-width="2"/>
<text x="329.3" y="723.7" font-size="9.2" text-anchor="end" fill="#231f20" stroke="#231f20" stroke-width="0.16" transform="rotate(90 329.3 723.7)">0</text>
<text x="372.3" y="723.7" font-size="9.2" text-anchor="end" fill="#231f20" stroke="#231f20" stroke-width="0.16" transform="rotate(90 372.3 723.7)">5</text>
<text x="415.1" y="723.7" font-size="9.2" text-anchor="end" fill="#231f20" stroke="#231f20" stroke-width="0.16" transform="rotate(90 415.1 723.7)">10</text>
<text x="458.6" y="723.7" font-size="9.2" text-anchor="end" fill="#231f20" stroke="#231f20" stroke-width="0.16" transform="rotate(90 458.6 723.7)">15</text>
<text x="496.8" y="723.7" font-size="9.2" text-anchor="end" fill="#231f20" stroke="#231f20" stroke-width="0.16" transform="rotate(90 496.8 723.7)">20</text>
<text x="323.8" y="744.4" font-size="9.8" text-anchor="end" fill="#231f20" stroke="#231f20" stroke-width="0.16">Pre-ino</text>
<text x="323.8" y="769" font-size="9.8" text-anchor="end" fill="#231f20" stroke="#231f20" stroke-width="0.16">Post-ino</text>
</svg>
</body></html>
